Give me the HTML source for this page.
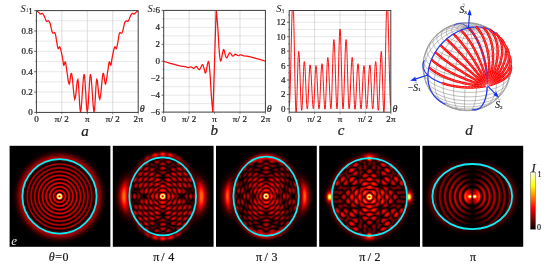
<!DOCTYPE html>
<html><head><meta charset="utf-8"><style>
html,body{margin:0;padding:0;background:#fff;}
body{width:550px;height:268px;position:relative;overflow:hidden;}
#cv{position:absolute;left:0;top:0;}
</style></head><body>
<div style="position:absolute;left:9.6px;top:145.8px;width:100.8px;height:101px;background:radial-gradient(ellipse 41.1px 41.2px at 49.9px 50.599999999999994px, #ffff80 0px, #ff2000 4px, #b00000 40%, #700000 90%, #000 100%);"></div>
<div style="position:absolute;left:21.5px;top:158.29999999999998px;width:74.2px;height:74.4px;border:1.8px solid rgb(15,235,245);border-radius:50%;"></div>
<div style="position:absolute;left:112.8px;top:145.8px;width:100.8px;height:101px;background:radial-gradient(ellipse 37.4px 43.05px at 49.89999999999999px 50.54999999999998px, #ffff80 0px, #ff2000 4px, #b00000 40%, #700000 90%, #000 100%);"></div>
<div style="position:absolute;left:128.39999999999998px;top:156.4px;width:66.8px;height:78.1px;border:1.8px solid rgb(15,235,245);border-radius:50%;"></div>
<div style="position:absolute;left:216.0px;top:145.8px;width:100.8px;height:101px;background:radial-gradient(ellipse 36.7px 43.6px at 50.10000000000002px 50.5px, #ffff80 0px, #ff2000 4px, #b00000 40%, #700000 90%, #000 100%);"></div>
<div style="position:absolute;left:232.50000000000003px;top:155.8px;width:65.4px;height:79.2px;border:1.8px solid rgb(15,235,245);border-radius:50%;"></div>
<div style="position:absolute;left:319.20000000000005px;top:145.8px;width:100.8px;height:101px;background:radial-gradient(ellipse 41.7px 42.85px at 50.19999999999993px 51.14999999999998px, #ffff80 0px, #ff2000 4px, #b00000 40%, #700000 90%, #000 100%);"></div>
<div style="position:absolute;left:330.8px;top:157.2px;width:75.4px;height:77.7px;border:1.8px solid rgb(15,235,245);border-radius:50%;"></div>
<div style="position:absolute;left:422.40000000000003px;top:145.8px;width:100.8px;height:101px;background:radial-gradient(ellipse 43.85px 36.55px at 49.849999999999966px 50.75px, #ffff80 0px, #ff2000 4px, #b00000 40%, #700000 90%, #000 100%);"></div>
<div style="position:absolute;left:431.5px;top:163.1px;width:79.7px;height:65.1px;border:1.8px solid rgb(15,235,245);border-radius:50%;"></div>
<div style="position:absolute;left:530.3px;top:172.5px;width:5.4px;height:56.8px;background:linear-gradient(#ffffe0,#ffff00 25%,#ff0000 62%,#000);"></div>
<canvas id="cv" width="550" height="268"></canvas>
<svg width="550" height="268" viewBox="0 0 550 268" style="position:absolute;left:0;top:0" font-family='"Liberation Serif", "DejaVu Serif", serif'>
<clipPath id="clipa"><rect x="36.4" y="10.6" width="101.79999999999998" height="101.80000000000001"/></clipPath>
<line x1="36.4" y1="102.22" x2="138.2" y2="102.22" stroke="#dedede" stroke-width="0.7"/>
<line x1="36.4" y1="92.04" x2="138.2" y2="92.04" stroke="#dedede" stroke-width="0.7"/>
<line x1="36.4" y1="81.86" x2="138.2" y2="81.86" stroke="#dedede" stroke-width="0.7"/>
<line x1="36.4" y1="71.68" x2="138.2" y2="71.68" stroke="#dedede" stroke-width="0.7"/>
<line x1="36.4" y1="61.50" x2="138.2" y2="61.50" stroke="#dedede" stroke-width="0.7"/>
<line x1="36.4" y1="51.32" x2="138.2" y2="51.32" stroke="#dedede" stroke-width="0.7"/>
<line x1="36.4" y1="41.14" x2="138.2" y2="41.14" stroke="#dedede" stroke-width="0.7"/>
<line x1="36.4" y1="30.96" x2="138.2" y2="30.96" stroke="#dedede" stroke-width="0.7"/>
<line x1="36.4" y1="20.78" x2="138.2" y2="20.78" stroke="#dedede" stroke-width="0.7"/>
<line x1="61.85" y1="10.6" x2="61.85" y2="112.4" stroke="#d0d0d0" stroke-width="0.7"/>
<line x1="87.30" y1="10.6" x2="87.30" y2="112.4" stroke="#d0d0d0" stroke-width="0.7"/>
<line x1="112.75" y1="10.6" x2="112.75" y2="112.4" stroke="#d0d0d0" stroke-width="0.7"/>
<line x1="34.20" y1="112.40" x2="36.4" y2="112.40" stroke="#444" stroke-width="0.8"/>
<line x1="34.20" y1="92.04" x2="36.4" y2="92.04" stroke="#444" stroke-width="0.8"/>
<line x1="34.20" y1="71.68" x2="36.4" y2="71.68" stroke="#444" stroke-width="0.8"/>
<line x1="34.20" y1="51.32" x2="36.4" y2="51.32" stroke="#444" stroke-width="0.8"/>
<line x1="34.20" y1="30.96" x2="36.4" y2="30.96" stroke="#444" stroke-width="0.8"/>
<line x1="34.20" y1="10.60" x2="36.4" y2="10.60" stroke="#444" stroke-width="0.8"/>
<line x1="35.20" y1="102.22" x2="36.4" y2="102.22" stroke="#666" stroke-width="0.6"/>
<line x1="35.20" y1="81.86" x2="36.4" y2="81.86" stroke="#666" stroke-width="0.6"/>
<line x1="35.20" y1="61.50" x2="36.4" y2="61.50" stroke="#666" stroke-width="0.6"/>
<line x1="35.20" y1="41.14" x2="36.4" y2="41.14" stroke="#666" stroke-width="0.6"/>
<line x1="35.20" y1="20.78" x2="36.4" y2="20.78" stroke="#666" stroke-width="0.6"/>
<line x1="36.40" y1="112.4" x2="36.40" y2="114.40" stroke="#666" stroke-width="0.7"/>
<line x1="61.85" y1="112.4" x2="61.85" y2="114.40" stroke="#666" stroke-width="0.7"/>
<line x1="87.30" y1="112.4" x2="87.30" y2="114.40" stroke="#666" stroke-width="0.7"/>
<line x1="112.75" y1="112.4" x2="112.75" y2="114.40" stroke="#666" stroke-width="0.7"/>
<line x1="138.20" y1="112.4" x2="138.20" y2="114.40" stroke="#666" stroke-width="0.7"/>
<path d="M36.40,10.60 L36.67,10.81 L37.05,11.10 L37.49,11.44 L37.96,11.81 L38.41,12.17 L38.80,12.50 L39.12,12.82 L39.42,13.17 L39.69,13.52 L39.96,13.83 L40.22,14.06 L40.50,14.20 L40.78,14.18 L41.07,14.02 L41.36,13.79 L41.64,13.56 L41.92,13.41 L42.20,13.40 L42.47,13.54 L42.74,13.76 L43.00,14.06 L43.26,14.42 L43.53,14.84 L43.80,15.30 L44.08,15.85 L44.38,16.51 L44.68,17.23 L44.97,17.95 L45.25,18.63 L45.50,19.20 L45.71,19.70 L45.89,20.16 L46.05,20.57 L46.21,20.93 L46.39,21.21 L46.60,21.40 L46.85,21.44 L47.12,21.33 L47.41,21.15 L47.71,20.97 L48.01,20.86 L48.30,20.90 L48.59,21.08 L48.89,21.35 L49.19,21.69 L49.48,22.10 L49.75,22.57 L50.00,23.10 L50.22,23.72 L50.41,24.43 L50.59,25.21 L50.76,26.01 L50.92,26.82 L51.10,27.60 L51.28,28.39 L51.46,29.23 L51.64,30.06 L51.83,30.85 L52.01,31.55 L52.20,32.10 L52.40,32.50 L52.60,32.78 L52.80,32.97 L53.00,33.09 L53.20,33.15 L53.40,33.20 L53.59,33.16 L53.77,33.02 L53.96,32.83 L54.14,32.65 L54.32,32.55 L54.50,32.60 L54.68,32.76 L54.87,32.98 L55.05,33.28 L55.23,33.69 L55.42,34.22 L55.60,34.90 L55.78,35.79 L55.96,36.87 L56.13,38.07 L56.31,39.34 L56.50,40.61 L56.70,41.80 L56.91,43.03 L57.14,44.36 L57.38,45.69 L57.61,46.90 L57.86,47.87 L58.10,48.50 L58.35,48.64 L58.60,48.37 L58.86,47.86 L59.11,47.30 L59.36,46.89 L59.60,46.80 L59.82,47.01 L60.03,47.37 L60.24,47.87 L60.44,48.51 L60.66,49.28 L60.90,50.20 L61.17,51.33 L61.46,52.69 L61.76,54.19 L62.06,55.74 L62.34,57.24 L62.60,58.60 L62.82,59.93 L63.02,61.33 L63.21,62.68 L63.39,63.87 L63.58,64.78 L63.80,65.30 L64.04,65.17 L64.30,64.44 L64.57,63.44 L64.85,62.48 L65.13,61.89 L65.40,62.00 L65.66,62.89 L65.91,64.31 L66.16,66.10 L66.42,68.10 L66.70,70.16 L67.00,72.10 L67.33,74.24 L67.68,76.76 L68.05,79.34 L68.43,81.63 L68.81,83.29 L69.20,84.00 L69.58,83.13 L69.96,80.82 L70.34,77.89 L70.73,75.15 L71.15,73.41 L71.60,73.50 L72.09,76.21 L72.61,81.07 L73.16,86.93 L73.71,92.66 L74.26,97.12 L74.80,99.20 L75.33,97.94 L75.86,94.06 L76.38,88.93 L76.90,83.88 L77.41,80.29 L77.90,79.50 L78.36,82.71 L78.80,89.07 L79.23,96.89 L79.66,104.45 L80.11,110.05 L80.60,112.00 L81.14,108.88 L81.72,101.77 L82.32,92.71 L82.93,83.73 L83.52,76.84 L84.10,74.10 L84.65,76.91 L85.19,83.93 L85.72,93.05 L86.24,102.17 L86.77,109.19 L87.30,112.00 L87.83,109.19 L88.36,102.17 L88.88,93.05 L89.41,83.93 L89.95,76.91 L90.50,74.10 L91.08,76.84 L91.67,83.73 L92.28,92.71 L92.88,101.77 L93.46,108.88 L94.00,112.00 L94.49,110.05 L94.94,104.45 L95.38,96.89 L95.80,89.07 L96.24,82.71 L96.70,79.50 L97.19,80.29 L97.70,83.88 L98.22,88.93 L98.74,94.06 L99.27,97.94 L99.80,99.20 L100.34,97.12 L100.89,92.66 L101.44,86.93 L101.99,81.07 L102.51,76.21 L103.00,73.50 L103.45,73.41 L103.87,75.15 L104.26,77.89 L104.64,80.82 L105.02,83.13 L105.40,84.00 L105.79,83.29 L106.17,81.63 L106.55,79.34 L106.92,76.76 L107.27,74.24 L107.60,72.10 L107.90,70.16 L108.18,68.10 L108.44,66.10 L108.69,64.31 L108.94,62.89 L109.20,62.00 L109.47,61.89 L109.75,62.48 L110.02,63.44 L110.30,64.44 L110.56,65.17 L110.80,65.30 L111.02,64.78 L111.21,63.87 L111.39,62.68 L111.58,61.33 L111.78,59.93 L112.00,58.60 L112.26,57.24 L112.54,55.74 L112.84,54.19 L113.14,52.69 L113.43,51.33 L113.70,50.20 L113.94,49.28 L114.16,48.51 L114.36,47.87 L114.57,47.37 L114.78,47.01 L115.00,46.80 L115.24,46.89 L115.49,47.30 L115.74,47.86 L116.00,48.37 L116.25,48.64 L116.50,48.50 L116.74,47.87 L116.99,46.90 L117.22,45.69 L117.46,44.36 L117.69,43.03 L117.90,41.80 L118.10,40.61 L118.29,39.34 L118.47,38.07 L118.64,36.87 L118.82,35.79 L119.00,34.90 L119.18,34.22 L119.37,33.69 L119.55,33.28 L119.73,32.98 L119.92,32.76 L120.10,32.60 L120.28,32.55 L120.46,32.65 L120.64,32.83 L120.83,33.02 L121.01,33.16 L121.20,33.20 L121.40,33.15 L121.60,33.09 L121.80,32.97 L122.00,32.78 L122.20,32.50 L122.40,32.10 L122.59,31.55 L122.77,30.85 L122.96,30.06 L123.14,29.23 L123.32,28.39 L123.50,27.60 L123.68,26.82 L123.84,26.01 L124.01,25.21 L124.19,24.43 L124.38,23.72 L124.60,23.10 L124.85,22.57 L125.12,22.10 L125.41,21.69 L125.71,21.35 L126.01,21.08 L126.30,20.90 L126.59,20.86 L126.89,20.97 L127.19,21.15 L127.48,21.33 L127.75,21.44 L128.00,21.40 L128.21,21.21 L128.39,20.93 L128.55,20.57 L128.71,20.16 L128.89,19.70 L129.10,19.20 L129.35,18.63 L129.63,17.95 L129.92,17.23 L130.22,16.51 L130.52,15.85 L130.80,15.30 L131.07,14.84 L131.34,14.42 L131.60,14.06 L131.86,13.76 L132.13,13.54 L132.40,13.40 L132.68,13.41 L132.96,13.56 L133.24,13.79 L133.53,14.02 L133.82,14.18 L134.10,14.20 L134.38,14.06 L134.64,13.83 L134.91,13.52 L135.18,13.17 L135.48,12.82 L135.80,12.50 L136.19,12.17 L136.64,11.81 L137.11,11.44 L137.55,11.10 L137.93,10.81 L138.20,10.60" fill="none" stroke="#ff1010" stroke-width="1.25" clip-path="url(#clipa)"/>
<rect x="36.4" y="10.6" width="101.79999999999998" height="101.80000000000001" fill="none" stroke="#3c3c3c" stroke-width="1"/>
<text x="32.80" y="115.40" font-size="9" text-anchor="end" fill="#222" stroke="#222" stroke-width="0.22">0</text>
<text x="32.80" y="95.04" font-size="9" text-anchor="end" fill="#222" stroke="#222" stroke-width="0.22">0.2</text>
<text x="32.80" y="74.68" font-size="9" text-anchor="end" fill="#222" stroke="#222" stroke-width="0.22">0.4</text>
<text x="32.80" y="54.32" font-size="9" text-anchor="end" fill="#222" stroke="#222" stroke-width="0.22">0.6</text>
<text x="32.80" y="33.96" font-size="9" text-anchor="end" fill="#222" stroke="#222" stroke-width="0.22">0.8</text>
<text x="32.80" y="13.60" font-size="9" text-anchor="end" fill="#222" stroke="#222" stroke-width="0.22">1</text>
<text x="36.40" y="122.00" font-size="9" text-anchor="middle" fill="#222" stroke="#222" stroke-width="0.22">0</text>
<text x="57.00" y="122.00" font-size="9" text-anchor="middle" fill="#222" stroke="#222" stroke-width="0.22">π</text>
<text x="60.75" y="122.00" font-size="9" text-anchor="middle" fill="#222" stroke="#222" stroke-width="0.22">/</text>
<text x="66.60" y="122.00" font-size="9" text-anchor="middle" fill="#222" stroke="#222" stroke-width="0.22">2</text>
<text x="87.30" y="122.00" font-size="9" text-anchor="middle" fill="#222" stroke="#222" stroke-width="0.22">π</text>
<text x="107.90" y="122.00" font-size="9" text-anchor="middle" fill="#222" stroke="#222" stroke-width="0.22">π</text>
<text x="111.65" y="122.00" font-size="9" text-anchor="middle" fill="#222" stroke="#222" stroke-width="0.22">/</text>
<text x="117.50" y="122.00" font-size="9" text-anchor="middle" fill="#222" stroke="#222" stroke-width="0.22">2</text>
<text x="135.80" y="122.00" font-size="9" text-anchor="middle" fill="#222" stroke="#222" stroke-width="0.22">2</text>
<text x="140.70" y="122.00" font-size="9" text-anchor="middle" fill="#222" stroke="#222" stroke-width="0.22">π</text>
<clipPath id="clipb"><rect x="163.7" y="10.4" width="101.69999999999999" height="101.69999999999999"/></clipPath>
<line x1="163.7" y1="103.62" x2="265.4" y2="103.62" stroke="#dedede" stroke-width="0.7"/>
<line x1="163.7" y1="95.15" x2="265.4" y2="95.15" stroke="#dedede" stroke-width="0.7"/>
<line x1="163.7" y1="86.67" x2="265.4" y2="86.67" stroke="#dedede" stroke-width="0.7"/>
<line x1="163.7" y1="78.20" x2="265.4" y2="78.20" stroke="#dedede" stroke-width="0.7"/>
<line x1="163.7" y1="69.72" x2="265.4" y2="69.72" stroke="#dedede" stroke-width="0.7"/>
<line x1="163.7" y1="52.77" x2="265.4" y2="52.77" stroke="#dedede" stroke-width="0.7"/>
<line x1="163.7" y1="44.30" x2="265.4" y2="44.30" stroke="#dedede" stroke-width="0.7"/>
<line x1="163.7" y1="35.83" x2="265.4" y2="35.83" stroke="#dedede" stroke-width="0.7"/>
<line x1="163.7" y1="27.35" x2="265.4" y2="27.35" stroke="#dedede" stroke-width="0.7"/>
<line x1="163.7" y1="18.88" x2="265.4" y2="18.88" stroke="#dedede" stroke-width="0.7"/>
<line x1="163.7" y1="61.25" x2="265.4" y2="61.25" stroke="#dedede" stroke-width="0.7"/>
<line x1="189.12" y1="10.4" x2="189.12" y2="112.1" stroke="#d0d0d0" stroke-width="0.7"/>
<line x1="214.55" y1="10.4" x2="214.55" y2="112.1" stroke="#d0d0d0" stroke-width="0.7"/>
<line x1="239.97" y1="10.4" x2="239.97" y2="112.1" stroke="#d0d0d0" stroke-width="0.7"/>
<line x1="161.50" y1="112.10" x2="163.7" y2="112.10" stroke="#444" stroke-width="0.8"/>
<line x1="161.50" y1="95.15" x2="163.7" y2="95.15" stroke="#444" stroke-width="0.8"/>
<line x1="161.50" y1="78.20" x2="163.7" y2="78.20" stroke="#444" stroke-width="0.8"/>
<line x1="161.50" y1="61.25" x2="163.7" y2="61.25" stroke="#444" stroke-width="0.8"/>
<line x1="161.50" y1="44.30" x2="163.7" y2="44.30" stroke="#444" stroke-width="0.8"/>
<line x1="161.50" y1="27.35" x2="163.7" y2="27.35" stroke="#444" stroke-width="0.8"/>
<line x1="161.50" y1="10.40" x2="163.7" y2="10.40" stroke="#444" stroke-width="0.8"/>
<line x1="162.50" y1="103.62" x2="163.7" y2="103.62" stroke="#666" stroke-width="0.6"/>
<line x1="162.50" y1="86.67" x2="163.7" y2="86.67" stroke="#666" stroke-width="0.6"/>
<line x1="162.50" y1="69.72" x2="163.7" y2="69.72" stroke="#666" stroke-width="0.6"/>
<line x1="162.50" y1="52.77" x2="163.7" y2="52.77" stroke="#666" stroke-width="0.6"/>
<line x1="162.50" y1="35.83" x2="163.7" y2="35.83" stroke="#666" stroke-width="0.6"/>
<line x1="162.50" y1="18.88" x2="163.7" y2="18.88" stroke="#666" stroke-width="0.6"/>
<line x1="163.70" y1="112.1" x2="163.70" y2="114.10" stroke="#666" stroke-width="0.7"/>
<line x1="189.12" y1="112.1" x2="189.12" y2="114.10" stroke="#666" stroke-width="0.7"/>
<line x1="214.55" y1="112.1" x2="214.55" y2="114.10" stroke="#666" stroke-width="0.7"/>
<line x1="239.97" y1="112.1" x2="239.97" y2="114.10" stroke="#666" stroke-width="0.7"/>
<line x1="265.40" y1="112.1" x2="265.40" y2="114.10" stroke="#666" stroke-width="0.7"/>
<path d="M163.70,61.25 L164.34,61.47 L165.20,61.76 L166.22,62.11 L167.39,62.50 L168.66,62.90 L170.00,63.30 L171.51,63.72 L173.24,64.20 L175.08,64.68 L176.90,65.15 L178.58,65.57 L180.00,65.90 L181.16,66.13 L182.14,66.27 L182.99,66.37 L183.73,66.44 L184.39,66.51 L185.00,66.60 L185.53,66.72 L185.96,66.85 L186.31,66.97 L186.61,67.10 L186.89,67.21 L187.20,67.30 L187.51,67.39 L187.80,67.47 L188.08,67.54 L188.35,67.60 L188.62,67.62 L188.90,67.60 L189.18,67.51 L189.47,67.36 L189.75,67.17 L190.03,66.99 L190.32,66.85 L190.60,66.80 L190.88,66.84 L191.17,66.95 L191.45,67.11 L191.73,67.28 L192.02,67.45 L192.30,67.60 L192.58,67.75 L192.85,67.94 L193.12,68.12 L193.40,68.27 L193.69,68.34 L194.00,68.30 L194.34,68.08 L194.71,67.68 L195.10,67.21 L195.49,66.76 L195.86,66.43 L196.20,66.30 L196.51,66.42 L196.80,66.73 L197.08,67.16 L197.35,67.62 L197.62,68.06 L197.90,68.40 L198.17,68.71 L198.43,69.06 L198.68,69.39 L198.95,69.61 L199.25,69.68 L199.60,69.50 L200.02,68.93 L200.50,67.99 L201.01,66.89 L201.51,65.82 L201.99,64.99 L202.40,64.60 L202.73,64.71 L203.02,65.17 L203.27,65.86 L203.50,66.69 L203.74,67.54 L204.00,68.30 L204.27,69.19 L204.53,70.32 L204.79,71.48 L205.06,72.43 L205.36,72.95 L205.70,72.80 L206.09,71.59 L206.54,69.43 L207.01,66.83 L207.47,64.31 L207.91,62.40 L208.30,61.60 L208.63,61.94 L208.91,63.00 L209.18,64.66 L209.42,66.80 L209.66,69.29 L209.90,72.00 L210.14,75.16 L210.37,78.90 L210.60,82.99 L210.83,87.20 L211.06,91.28 L211.30,95.00 L211.57,98.56 L211.88,102.19 L212.19,105.69 L212.48,108.87 L212.72,111.54 L212.90,113.50 L214.55,61.25 L216.20,9.00 L216.38,10.96 L216.62,13.63 L216.91,16.81 L217.22,20.31 L217.53,23.94 L217.80,27.50 L218.04,31.22 L218.27,35.30 L218.50,39.51 L218.73,43.60 L218.96,47.34 L219.20,50.50 L219.44,53.21 L219.68,55.70 L219.92,57.84 L220.19,59.50 L220.47,60.56 L220.80,60.90 L221.19,60.10 L221.63,58.19 L222.09,55.67 L222.56,53.07 L223.01,50.91 L223.40,49.70 L223.74,49.55 L224.04,50.07 L224.31,51.02 L224.57,52.18 L224.83,53.31 L225.10,54.20 L225.36,54.96 L225.60,55.81 L225.83,56.64 L226.08,57.33 L226.37,57.79 L226.70,57.90 L227.11,57.51 L227.59,56.68 L228.09,55.61 L228.60,54.51 L229.08,53.57 L229.50,53.00 L229.85,52.82 L230.15,52.89 L230.42,53.11 L230.67,53.44 L230.93,53.79 L231.20,54.10 L231.48,54.44 L231.75,54.88 L232.02,55.34 L232.30,55.77 L232.59,56.08 L232.90,56.20 L233.24,56.07 L233.61,55.74 L234.00,55.29 L234.39,54.82 L234.76,54.42 L235.10,54.20 L235.41,54.16 L235.70,54.23 L235.98,54.38 L236.25,54.56 L236.52,54.75 L236.80,54.90 L237.08,55.05 L237.37,55.22 L237.65,55.39 L237.93,55.55 L238.22,55.66 L238.50,55.70 L238.78,55.65 L239.07,55.51 L239.35,55.33 L239.63,55.14 L239.92,54.99 L240.20,54.90 L240.48,54.88 L240.75,54.90 L241.02,54.96 L241.30,55.03 L241.59,55.11 L241.90,55.20 L242.21,55.29 L242.49,55.40 L242.79,55.53 L243.14,55.65 L243.57,55.78 L244.10,55.90 L244.71,55.99 L245.37,56.06 L246.11,56.13 L246.96,56.23 L247.94,56.37 L249.10,56.60 L250.52,56.93 L252.20,57.35 L254.02,57.82 L255.86,58.30 L257.59,58.78 L259.10,59.20 L260.44,59.60 L261.71,60.00 L262.88,60.39 L263.90,60.74 L264.76,61.03 L265.40,61.25" fill="none" stroke="#ff1010" stroke-width="1.25" clip-path="url(#clipb)"/>
<rect x="163.7" y="10.4" width="101.69999999999999" height="101.69999999999999" fill="none" stroke="#3c3c3c" stroke-width="1"/>
<text x="160.10" y="115.10" font-size="9" text-anchor="end" fill="#222" stroke="#222" stroke-width="0.22">−6</text>
<text x="160.10" y="98.15" font-size="9" text-anchor="end" fill="#222" stroke="#222" stroke-width="0.22">−4</text>
<text x="160.10" y="81.20" font-size="9" text-anchor="end" fill="#222" stroke="#222" stroke-width="0.22">−2</text>
<text x="160.10" y="64.25" font-size="9" text-anchor="end" fill="#222" stroke="#222" stroke-width="0.22">0</text>
<text x="160.10" y="47.30" font-size="9" text-anchor="end" fill="#222" stroke="#222" stroke-width="0.22">2</text>
<text x="160.10" y="30.35" font-size="9" text-anchor="end" fill="#222" stroke="#222" stroke-width="0.22">4</text>
<text x="160.10" y="13.40" font-size="9" text-anchor="end" fill="#222" stroke="#222" stroke-width="0.22">6</text>
<text x="163.70" y="122.00" font-size="9" text-anchor="middle" fill="#222" stroke="#222" stroke-width="0.22">0</text>
<text x="184.28" y="122.00" font-size="9" text-anchor="middle" fill="#222" stroke="#222" stroke-width="0.22">π</text>
<text x="188.03" y="122.00" font-size="9" text-anchor="middle" fill="#222" stroke="#222" stroke-width="0.22">/</text>
<text x="193.88" y="122.00" font-size="9" text-anchor="middle" fill="#222" stroke="#222" stroke-width="0.22">2</text>
<text x="214.55" y="122.00" font-size="9" text-anchor="middle" fill="#222" stroke="#222" stroke-width="0.22">π</text>
<text x="235.12" y="122.00" font-size="9" text-anchor="middle" fill="#222" stroke="#222" stroke-width="0.22">π</text>
<text x="238.87" y="122.00" font-size="9" text-anchor="middle" fill="#222" stroke="#222" stroke-width="0.22">/</text>
<text x="244.72" y="122.00" font-size="9" text-anchor="middle" fill="#222" stroke="#222" stroke-width="0.22">2</text>
<text x="263.00" y="122.00" font-size="9" text-anchor="middle" fill="#222" stroke="#222" stroke-width="0.22">2</text>
<text x="267.90" y="122.00" font-size="9" text-anchor="middle" fill="#222" stroke="#222" stroke-width="0.22">π</text>
<clipPath id="clipc"><rect x="289.2" y="10.5" width="101.60000000000002" height="101.7"/></clipPath>
<line x1="289.2" y1="108.90" x2="390.8" y2="108.90" stroke="#dedede" stroke-width="0.7"/>
<line x1="289.2" y1="101.68" x2="390.8" y2="101.68" stroke="#dedede" stroke-width="0.7"/>
<line x1="289.2" y1="94.46" x2="390.8" y2="94.46" stroke="#dedede" stroke-width="0.7"/>
<line x1="289.2" y1="87.24" x2="390.8" y2="87.24" stroke="#dedede" stroke-width="0.7"/>
<line x1="289.2" y1="80.02" x2="390.8" y2="80.02" stroke="#dedede" stroke-width="0.7"/>
<line x1="289.2" y1="72.80" x2="390.8" y2="72.80" stroke="#dedede" stroke-width="0.7"/>
<line x1="289.2" y1="65.58" x2="390.8" y2="65.58" stroke="#dedede" stroke-width="0.7"/>
<line x1="289.2" y1="58.36" x2="390.8" y2="58.36" stroke="#dedede" stroke-width="0.7"/>
<line x1="289.2" y1="51.14" x2="390.8" y2="51.14" stroke="#dedede" stroke-width="0.7"/>
<line x1="289.2" y1="43.92" x2="390.8" y2="43.92" stroke="#dedede" stroke-width="0.7"/>
<line x1="289.2" y1="36.70" x2="390.8" y2="36.70" stroke="#dedede" stroke-width="0.7"/>
<line x1="289.2" y1="29.48" x2="390.8" y2="29.48" stroke="#dedede" stroke-width="0.7"/>
<line x1="289.2" y1="22.26" x2="390.8" y2="22.26" stroke="#dedede" stroke-width="0.7"/>
<line x1="289.2" y1="15.04" x2="390.8" y2="15.04" stroke="#dedede" stroke-width="0.7"/>
<line x1="314.60" y1="10.5" x2="314.60" y2="112.2" stroke="#d0d0d0" stroke-width="0.7"/>
<line x1="340.00" y1="10.5" x2="340.00" y2="112.2" stroke="#d0d0d0" stroke-width="0.7"/>
<line x1="365.40" y1="10.5" x2="365.40" y2="112.2" stroke="#d0d0d0" stroke-width="0.7"/>
<line x1="287.00" y1="108.90" x2="289.2" y2="108.90" stroke="#444" stroke-width="0.8"/>
<line x1="287.00" y1="94.46" x2="289.2" y2="94.46" stroke="#444" stroke-width="0.8"/>
<line x1="287.00" y1="80.02" x2="289.2" y2="80.02" stroke="#444" stroke-width="0.8"/>
<line x1="287.00" y1="65.58" x2="289.2" y2="65.58" stroke="#444" stroke-width="0.8"/>
<line x1="287.00" y1="51.14" x2="289.2" y2="51.14" stroke="#444" stroke-width="0.8"/>
<line x1="287.00" y1="36.70" x2="289.2" y2="36.70" stroke="#444" stroke-width="0.8"/>
<line x1="287.00" y1="22.26" x2="289.2" y2="22.26" stroke="#444" stroke-width="0.8"/>
<line x1="288.00" y1="101.68" x2="289.2" y2="101.68" stroke="#666" stroke-width="0.6"/>
<line x1="288.00" y1="87.24" x2="289.2" y2="87.24" stroke="#666" stroke-width="0.6"/>
<line x1="288.00" y1="72.80" x2="289.2" y2="72.80" stroke="#666" stroke-width="0.6"/>
<line x1="288.00" y1="58.36" x2="289.2" y2="58.36" stroke="#666" stroke-width="0.6"/>
<line x1="288.00" y1="43.92" x2="289.2" y2="43.92" stroke="#666" stroke-width="0.6"/>
<line x1="288.00" y1="29.48" x2="289.2" y2="29.48" stroke="#666" stroke-width="0.6"/>
<line x1="288.00" y1="15.04" x2="289.2" y2="15.04" stroke="#666" stroke-width="0.6"/>
<line x1="289.20" y1="112.2" x2="289.20" y2="114.20" stroke="#666" stroke-width="0.7"/>
<line x1="314.60" y1="112.2" x2="314.60" y2="114.20" stroke="#666" stroke-width="0.7"/>
<line x1="340.00" y1="112.2" x2="340.00" y2="114.20" stroke="#666" stroke-width="0.7"/>
<line x1="365.40" y1="112.2" x2="365.40" y2="114.20" stroke="#666" stroke-width="0.7"/>
<line x1="390.80" y1="112.2" x2="390.80" y2="114.20" stroke="#666" stroke-width="0.7"/>
<path d="M289.20,106.30 L289.57,103.71 L289.94,96.21 L290.31,84.52 L290.68,69.78 L291.05,53.45 L291.42,37.12 L291.79,22.39 L292.16,10.69 L292.53,3.19 L292.90,0.60 L293.22,3.34 L293.54,11.29 L293.86,23.67 L294.18,39.26 L294.50,56.56 L294.82,73.85 L295.14,89.44 L295.46,101.82 L295.78,109.77 L296.10,112.51 L296.36,111.02 L296.62,106.68 L296.88,99.92 L297.14,91.41 L297.40,81.97 L297.66,72.53 L297.92,64.02 L298.18,57.26 L298.44,52.92 L298.70,51.43 L299.00,52.87 L299.30,57.05 L299.60,63.57 L299.90,71.78 L300.20,80.89 L300.50,89.99 L300.80,98.20 L301.10,104.72 L301.40,108.90 L301.70,110.34 L301.96,109.15 L302.22,105.68 L302.48,100.27 L302.74,93.46 L303.00,85.90 L303.26,78.35 L303.52,71.54 L303.78,66.13 L304.04,62.66 L304.30,61.46 L304.60,62.63 L304.90,65.99 L305.20,71.24 L305.50,77.85 L305.80,85.18 L306.10,92.51 L306.40,99.12 L306.70,104.37 L307.00,107.74 L307.30,108.90 L307.58,107.82 L307.86,104.69 L308.14,99.82 L308.42,93.68 L308.70,86.88 L308.98,80.07 L309.26,73.94 L309.54,69.06 L309.82,65.94 L310.10,64.86 L310.43,65.93 L310.76,69.04 L311.09,73.89 L311.42,80.00 L311.75,86.77 L312.08,93.54 L312.41,99.65 L312.74,104.50 L313.07,107.61 L313.40,108.68 L313.66,107.63 L313.92,104.57 L314.18,99.80 L314.44,93.79 L314.70,87.13 L314.96,80.47 L315.22,74.46 L315.48,69.70 L315.74,66.63 L316.00,65.58 L316.30,66.64 L316.60,69.72 L316.90,74.51 L317.20,80.55 L317.50,87.24 L317.80,93.93 L318.10,99.97 L318.40,104.76 L318.70,107.84 L319.00,108.90 L319.30,107.79 L319.60,104.58 L319.90,99.58 L320.20,93.28 L320.50,86.30 L320.80,79.32 L321.10,73.02 L321.40,68.02 L321.70,64.81 L322.00,63.70 L322.30,64.82 L322.60,68.05 L322.90,73.09 L323.20,79.44 L323.50,86.48 L323.80,93.52 L324.10,99.87 L324.40,104.91 L324.70,108.15 L325.00,109.26 L325.28,107.99 L325.56,104.31 L325.84,98.58 L326.12,91.35 L326.40,83.34 L326.68,75.33 L326.96,68.11 L327.24,62.37 L327.52,58.69 L327.80,57.42 L328.11,58.68 L328.42,62.34 L328.73,68.03 L329.04,75.21 L329.35,83.16 L329.66,91.11 L329.97,98.29 L330.28,103.98 L330.59,107.64 L330.90,108.90 L331.20,107.20 L331.50,102.28 L331.80,94.61 L332.10,84.95 L332.40,74.24 L332.70,63.53 L333.00,53.87 L333.30,46.21 L333.60,41.28 L333.90,39.59 L334.21,41.28 L334.52,46.21 L334.83,53.87 L335.14,63.53 L335.45,74.24 L335.76,84.95 L336.07,94.61 L336.38,102.28 L336.69,107.20 L337.00,108.90 L337.30,106.94 L337.60,101.27 L337.90,92.43 L338.20,81.29 L338.50,68.94 L338.80,56.59 L339.10,45.45 L339.40,36.61 L339.70,30.93 L340.00,28.97 L340.30,30.93 L340.60,36.61 L340.90,45.45 L341.20,56.59 L341.50,68.94 L341.80,81.29 L342.10,92.43 L342.40,101.27 L342.70,106.94 L343.00,108.90 L343.31,107.20 L343.62,102.28 L343.93,94.61 L344.24,84.95 L344.55,74.24 L344.86,63.53 L345.17,53.87 L345.48,46.21 L345.79,41.28 L346.10,39.59 L346.40,41.28 L346.70,46.21 L347.00,53.87 L347.30,63.53 L347.60,74.24 L347.90,84.95 L348.20,94.61 L348.50,102.28 L348.80,107.20 L349.10,108.90 L349.41,107.64 L349.72,103.98 L350.03,98.29 L350.34,91.11 L350.65,83.16 L350.96,75.21 L351.27,68.03 L351.58,62.34 L351.89,58.68 L352.20,57.42 L352.48,58.69 L352.76,62.37 L353.04,68.11 L353.32,75.33 L353.60,83.34 L353.88,91.35 L354.16,98.58 L354.44,104.31 L354.72,107.99 L355.00,109.26 L355.30,108.15 L355.60,104.91 L355.90,99.87 L356.20,93.52 L356.50,86.48 L356.80,79.44 L357.10,73.09 L357.40,68.05 L357.70,64.82 L358.00,63.70 L358.30,64.81 L358.60,68.02 L358.90,73.02 L359.20,79.32 L359.50,86.30 L359.80,93.28 L360.10,99.58 L360.40,104.58 L360.70,107.79 L361.00,108.90 L361.30,107.84 L361.60,104.76 L361.90,99.97 L362.20,93.93 L362.50,87.24 L362.80,80.55 L363.10,74.51 L363.40,69.72 L363.70,66.64 L364.00,65.58 L364.26,66.63 L364.52,69.70 L364.78,74.46 L365.04,80.47 L365.30,87.13 L365.56,93.79 L365.82,99.80 L366.08,104.57 L366.34,107.63 L366.60,108.68 L366.93,107.61 L367.26,104.50 L367.59,99.65 L367.92,93.54 L368.25,86.77 L368.58,80.00 L368.91,73.89 L369.24,69.04 L369.57,65.93 L369.90,64.86 L370.18,65.94 L370.46,69.06 L370.74,73.94 L371.02,80.07 L371.30,86.88 L371.58,93.68 L371.86,99.82 L372.14,104.69 L372.42,107.82 L372.70,108.90 L373.00,107.74 L373.30,104.37 L373.60,99.12 L373.90,92.51 L374.20,85.18 L374.50,77.85 L374.80,71.24 L375.10,65.99 L375.40,62.63 L375.70,61.46 L375.96,62.66 L376.22,66.13 L376.48,71.54 L376.74,78.35 L377.00,85.90 L377.26,93.46 L377.52,100.27 L377.78,105.68 L378.04,109.15 L378.30,110.34 L378.60,108.90 L378.90,104.72 L379.20,98.20 L379.50,89.99 L379.80,80.89 L380.10,71.78 L380.40,63.57 L380.70,57.05 L381.00,52.87 L381.30,51.43 L381.56,52.92 L381.82,57.26 L382.08,64.02 L382.34,72.53 L382.60,81.97 L382.86,91.41 L383.12,99.92 L383.38,106.68 L383.64,111.02 L383.90,112.51 L384.22,109.77 L384.54,101.82 L384.86,89.44 L385.18,73.85 L385.50,56.56 L385.82,39.26 L386.14,23.67 L386.46,11.29 L386.78,3.34 L387.10,0.60 L387.47,3.19 L387.84,10.69 L388.21,22.39 L388.58,37.12 L388.95,53.45 L389.32,69.78 L389.69,84.52 L390.06,96.21 L390.43,103.71 L390.80,106.30" fill="none" stroke="#ff1010" stroke-width="1.0" clip-path="url(#clipc)"/>
<rect x="289.2" y="10.5" width="101.60000000000002" height="101.7" fill="none" stroke="#3c3c3c" stroke-width="1"/>
<text x="285.60" y="111.90" font-size="9" text-anchor="end" fill="#222" stroke="#222" stroke-width="0.22">0</text>
<text x="285.60" y="97.46" font-size="9" text-anchor="end" fill="#222" stroke="#222" stroke-width="0.22">2</text>
<text x="285.60" y="83.02" font-size="9" text-anchor="end" fill="#222" stroke="#222" stroke-width="0.22">4</text>
<text x="285.60" y="68.58" font-size="9" text-anchor="end" fill="#222" stroke="#222" stroke-width="0.22">6</text>
<text x="285.60" y="54.14" font-size="9" text-anchor="end" fill="#222" stroke="#222" stroke-width="0.22">8</text>
<text x="285.60" y="39.70" font-size="9" text-anchor="end" fill="#222" stroke="#222" stroke-width="0.22">10</text>
<text x="285.60" y="25.26" font-size="9" text-anchor="end" fill="#222" stroke="#222" stroke-width="0.22">12</text>
<text x="289.20" y="122.00" font-size="9" text-anchor="middle" fill="#222" stroke="#222" stroke-width="0.22">0</text>
<text x="309.75" y="122.00" font-size="9" text-anchor="middle" fill="#222" stroke="#222" stroke-width="0.22">π</text>
<text x="313.50" y="122.00" font-size="9" text-anchor="middle" fill="#222" stroke="#222" stroke-width="0.22">/</text>
<text x="319.35" y="122.00" font-size="9" text-anchor="middle" fill="#222" stroke="#222" stroke-width="0.22">2</text>
<text x="340.00" y="122.00" font-size="9" text-anchor="middle" fill="#222" stroke="#222" stroke-width="0.22">π</text>
<text x="360.55" y="122.00" font-size="9" text-anchor="middle" fill="#222" stroke="#222" stroke-width="0.22">π</text>
<text x="364.30" y="122.00" font-size="9" text-anchor="middle" fill="#222" stroke="#222" stroke-width="0.22">/</text>
<text x="370.15" y="122.00" font-size="9" text-anchor="middle" fill="#222" stroke="#222" stroke-width="0.22">2</text>
<text x="388.40" y="122.00" font-size="9" text-anchor="middle" fill="#222" stroke="#222" stroke-width="0.22">2</text>
<text x="393.30" y="122.00" font-size="9" text-anchor="middle" fill="#222" stroke="#222" stroke-width="0.22">π</text>
<text x="20.4" y="11.8" font-size="10.5" font-style="italic" fill="#222">S<tspan font-size="5.5" font-style="normal" dy="0.6">1</tspan></text>
<text x="147.6" y="11.8" font-size="10.5" font-style="italic" fill="#222">S<tspan font-size="5.5" font-style="normal" dy="0.6">2</tspan></text>
<text x="276.2" y="12.2" font-size="10.5" font-style="italic" fill="#222">S<tspan font-size="5.5" font-style="normal" dy="0.6">3</tspan></text>
<text x="139.80" y="112.30" font-size="10" text-anchor="start" font-style="italic" fill="#222" stroke="#222" stroke-width="0.22">θ</text>
<text x="266.80" y="112.30" font-size="10" text-anchor="start" font-style="italic" fill="#222" stroke="#222" stroke-width="0.22">θ</text>
<text x="392.40" y="112.30" font-size="10" text-anchor="start" font-style="italic" fill="#222" stroke="#222" stroke-width="0.22">θ</text>
<text x="85.00" y="136.00" font-size="15" text-anchor="middle" font-style="italic" fill="#222" stroke="#222" stroke-width="0.22">a</text>
<text x="214.20" y="135.20" font-size="15" text-anchor="middle" font-style="italic" fill="#222" stroke="#222" stroke-width="0.22">b</text>
<text x="341.00" y="135.20" font-size="15" text-anchor="middle" font-style="italic" fill="#222" stroke="#222" stroke-width="0.22">c</text>
<text x="469.00" y="135.20" font-size="15" text-anchor="middle" font-style="italic" fill="#222" stroke="#222" stroke-width="0.22">d</text>
<g id="sphere">
<path d="M465.32,110.45 L466.49,110.48 L467.66,110.46 L468.83,110.41 L469.97,110.32 L471.10,110.19 L472.20,110.02 L473.26,109.82 L474.29,109.58 L475.28,109.31 L476.22,109.00 L477.11,108.66 L477.94,108.30 M453.70,107.77 L454.56,108.17 L455.47,108.55 L456.44,108.90 L457.44,109.21 L458.49,109.50 L459.57,109.75 L460.68,109.96 L461.82,110.14 L462.98,110.28 L464.14,110.39 L465.32,110.45 M465.31,110.65 L466.85,110.68 L468.38,110.66 L469.90,110.59 L471.39,110.48 L472.86,110.31 L474.30,110.09 L475.69,109.83 L477.04,109.51 L478.33,109.16 L479.55,108.76 L480.71,108.31 L481.80,107.83 L482.81,107.31 L483.74,106.76 L484.57,106.18 L485.32,105.56 M446.44,104.71 L447.24,105.36 L448.12,105.98 L449.08,106.58 L450.13,107.14 L451.25,107.67 L452.45,108.16 L453.70,108.62 L455.02,109.03 L456.39,109.40 L457.80,109.73 L459.26,110.01 L460.74,110.24 L462.25,110.43 L463.77,110.56 L465.31,110.65 M465.33,110.09 L467.20,110.13 L469.07,110.11 L470.91,110.03 L472.74,109.88 L474.53,109.68 L476.27,109.41 L477.97,109.09 L479.61,108.71 L481.18,108.28 L482.67,107.79 L484.09,107.25 L485.41,106.66 L486.64,106.03 L487.77,105.36 L488.79,104.65 L489.69,103.90 L490.49,103.12 L491.16,102.32 M440.78,101.21 L441.51,102.05 L442.36,102.86 L443.33,103.65 L444.40,104.41 L445.57,105.13 L446.85,105.82 L448.22,106.46 L449.67,107.06 L451.20,107.62 L452.80,108.12 L454.47,108.58 L456.19,108.97 L457.96,109.31 L459.77,109.60 L461.61,109.82 L463.46,109.99 L465.33,110.09 M465.38,108.79 L467.55,108.84 L469.72,108.81 L471.87,108.72 L473.98,108.55 L476.06,108.31 L478.09,108.00 L480.06,107.63 L481.96,107.19 L483.79,106.68 L485.52,106.12 L487.17,105.49 L488.70,104.81 L490.13,104.08 L491.44,103.29 L492.62,102.47 L493.68,101.60 L494.60,100.70 L495.38,99.76 L496.02,98.80 L496.51,97.81 M435.60,96.48 L436.16,97.49 L436.87,98.48 L437.72,99.45 L438.70,100.40 L439.82,101.31 L441.07,102.19 L442.43,103.03 L443.91,103.83 L445.50,104.58 L447.19,105.28 L448.97,105.92 L450.83,106.50 L452.77,107.03 L454.77,107.49 L456.82,107.89 L458.92,108.22 L461.05,108.48 L463.21,108.67 L465.38,108.79 M465.46,106.77 L467.90,106.82 L470.33,106.79 L472.73,106.69 L475.11,106.50 L477.44,106.23 L479.72,105.89 L481.93,105.46 L484.06,104.97 L486.11,104.40 L488.06,103.77 L489.90,103.07 L491.63,102.30 L493.23,101.48 L494.70,100.60 L496.03,99.68 L497.21,98.70 L498.24,97.69 L499.12,96.64 L499.83,95.56 L500.38,94.45 L500.76,93.32 M431.58,91.81 L432.05,92.95 L432.68,94.09 L433.47,95.20 L434.42,96.29 L435.53,97.35 L436.78,98.38 L438.18,99.37 L439.71,100.31 L441.37,101.20 L443.15,102.04 L445.05,102.83 L447.05,103.55 L449.13,104.20 L451.31,104.79 L453.55,105.31 L455.86,105.76 L458.21,106.13 L460.60,106.42 L463.02,106.63 L465.46,106.77 M465.56,104.06 L468.22,104.12 L470.88,104.09 L473.51,103.97 L476.10,103.76 L478.65,103.47 L481.13,103.10 L483.54,102.64 L485.87,102.10 L488.11,101.48 L490.23,100.78 L492.24,100.02 L494.13,99.19 L495.87,98.29 L497.48,97.33 L498.93,96.32 L500.22,95.26 L501.35,94.15 L502.30,93.00 L503.08,91.82 L503.68,90.61 L504.10,89.38 L504.34,88.13 M428.26,86.47 L428.58,87.73 L429.09,88.98 L429.78,90.22 L430.64,91.43 L431.68,92.62 L432.89,93.78 L434.26,94.90 L435.78,95.98 L437.46,97.01 L439.27,97.98 L441.22,98.90 L443.28,99.76 L445.46,100.54 L447.74,101.26 L450.11,101.91 L452.56,102.47 L455.08,102.96 L457.65,103.36 L460.26,103.68 L462.90,103.91 L465.56,104.06 M465.69,100.71 L468.53,100.77 L471.36,100.74 L474.16,100.62 L476.93,100.40 L479.65,100.09 L482.30,99.68 L484.87,99.19 L487.36,98.62 L489.74,97.96 L492.01,97.22 L494.15,96.40 L496.16,95.51 L498.03,94.55 L499.74,93.53 L501.29,92.45 L502.67,91.32 L503.87,90.14 L504.89,88.91 L505.72,87.66 L506.36,86.37 L506.81,85.05 L507.06,83.72 L507.11,82.38 M425.75,80.60 L425.90,81.94 L426.24,83.29 L426.78,84.62 L427.52,85.94 L428.44,87.24 L429.55,88.51 L430.83,89.75 L432.29,90.94 L433.92,92.09 L435.71,93.19 L437.64,94.23 L439.72,95.21 L441.92,96.12 L444.25,96.96 L446.68,97.73 L449.21,98.41 L451.82,99.02 L454.51,99.53 L457.25,99.97 L460.04,100.31 L462.86,100.55 L465.69,100.71 M465.84,96.78 L468.81,96.84 L471.77,96.81 L474.70,96.68 L477.59,96.45 L480.43,96.13 L483.21,95.71 L485.90,95.19 L488.50,94.59 L490.99,93.90 L493.36,93.13 L495.60,92.27 L497.70,91.34 L499.65,90.34 L501.44,89.27 L503.06,88.15 L504.50,86.96 L505.76,85.73 L506.82,84.45 L507.69,83.13 L508.36,81.78 L508.83,80.41 L509.09,79.02 L509.14,77.61 L508.99,76.21 M424.14,74.35 L424.09,75.75 L424.24,77.16 L424.60,78.56 L425.16,79.96 L425.93,81.34 L426.89,82.70 L428.05,84.02 L429.40,85.32 L430.93,86.57 L432.63,87.77 L434.49,88.92 L436.52,90.00 L438.69,91.03 L440.99,91.98 L443.42,92.86 L445.97,93.66 L448.61,94.38 L451.34,95.01 L454.15,95.55 L457.02,96.00 L459.93,96.36 L462.88,96.62 L465.84,96.78 M466.01,92.33 L469.06,92.40 L472.10,92.36 L475.11,92.23 L478.08,92.00 L480.99,91.66 L483.84,91.23 L486.60,90.70 L489.26,90.09 L491.82,89.38 L494.26,88.58 L496.56,87.71 L498.71,86.75 L500.71,85.73 L502.55,84.63 L504.21,83.47 L505.69,82.25 L506.98,80.99 L508.08,79.67 L508.97,78.32 L509.66,76.94 L510.13,75.53 L510.40,74.10 L510.46,72.66 L510.30,71.22 L509.93,69.77 M423.48,67.88 L423.21,69.31 L423.15,70.75 L423.31,72.19 L423.68,73.64 L424.26,75.07 L425.05,76.48 L426.04,77.88 L427.22,79.24 L428.61,80.57 L430.17,81.85 L431.92,83.08 L433.84,84.26 L435.91,85.38 L438.14,86.43 L440.51,87.41 L443.00,88.31 L445.61,89.13 L448.33,89.87 L451.13,90.51 L454.01,91.07 L456.95,91.53 L459.95,91.90 L462.97,92.16 L466.01,92.33 M466.20,87.45 L469.27,87.51 L472.34,87.48 L475.37,87.34 L478.37,87.11 L481.31,86.77 L484.18,86.33 L486.96,85.80 L489.65,85.18 L492.23,84.47 L494.69,83.66 L497.01,82.78 L499.18,81.82 L501.20,80.78 L503.05,79.68 L504.73,78.51 L506.22,77.28 L507.52,76.00 L508.63,74.68 L509.53,73.31 L510.22,71.92 L510.70,70.50 L510.97,69.06 L511.03,67.60 L510.87,66.15 L510.50,64.69 L509.91,63.25 M423.78,61.36 L423.30,62.78 L423.03,64.22 L422.97,65.68 L423.13,67.13 L423.50,68.59 L424.09,70.03 L424.88,71.46 L425.88,72.87 L427.08,74.24 L428.47,75.58 L430.05,76.87 L431.81,78.12 L433.75,79.30 L435.84,80.43 L438.09,81.49 L440.47,82.48 L442.99,83.39 L445.62,84.22 L448.36,84.96 L451.19,85.61 L454.10,86.17 L457.06,86.64 L460.08,87.01 L463.13,87.28 L466.20,87.45 M466.40,82.20 L469.45,82.27 L472.48,82.24 L475.49,82.10 L478.46,81.87 L481.38,81.53 L484.23,81.10 L486.99,80.58 L489.65,79.96 L492.21,79.25 L494.65,78.45 L496.95,77.58 L499.10,76.62 L501.10,75.60 L502.94,74.50 L504.60,73.34 L506.08,72.12 L507.37,70.86 L508.46,69.54 L509.36,68.19 L510.04,66.81 L510.52,65.40 L510.79,63.97 L510.85,62.53 L510.69,61.09 L510.32,59.64 L509.74,58.21 L508.95,56.80 M425.03,54.96 L424.34,56.34 L423.87,57.75 L423.60,59.18 L423.54,60.62 L423.70,62.06 L424.07,63.51 L424.65,64.94 L425.44,66.35 L426.43,67.75 L427.61,69.11 L429.00,70.44 L430.56,71.72 L432.31,72.95 L434.23,74.13 L436.30,75.25 L438.53,76.30 L440.90,77.28 L443.39,78.18 L446.00,79.00 L448.72,79.74 L451.52,80.39 L454.40,80.94 L457.34,81.40 L460.33,81.77 L463.36,82.04 L466.40,82.20 M466.61,76.69 L469.58,76.76 L472.54,76.73 L475.47,76.59 L478.37,76.37 L481.21,76.04 L483.98,75.62 L486.67,75.11 L489.27,74.51 L491.76,73.82 L494.13,73.04 L496.37,72.19 L498.47,71.26 L500.42,70.26 L502.21,69.19 L503.83,68.06 L505.27,66.88 L506.53,65.64 L507.59,64.36 L508.46,63.04 L509.13,61.70 L509.60,60.32 L509.86,58.93 L509.91,57.53 L509.76,56.12 L509.40,54.72 L508.84,53.32 L508.07,51.94 L507.11,50.58 L505.95,49.26 M428.24,47.55 L427.18,48.83 L426.31,50.15 L425.64,51.50 L425.17,52.87 L424.91,54.26 L424.86,55.67 L425.01,57.07 L425.37,58.48 L425.93,59.87 L426.70,61.25 L427.67,62.61 L428.82,63.94 L430.17,65.23 L431.70,66.48 L433.40,67.68 L435.27,68.83 L437.29,69.92 L439.46,70.94 L441.76,71.90 L444.20,72.77 L446.74,73.57 L449.38,74.29 L452.12,74.92 L454.92,75.46 L457.79,75.91 L460.70,76.27 L463.65,76.53 L466.61,76.69 M466.83,71.01 L469.67,71.07 L472.50,71.04 L475.31,70.92 L478.07,70.70 L480.79,70.39 L483.44,69.99 L486.01,69.50 L488.50,68.92 L490.88,68.26 L493.15,67.52 L495.30,66.70 L497.30,65.81 L499.17,64.86 L500.88,63.84 L502.43,62.76 L503.81,61.62 L505.01,60.44 L506.03,59.22 L506.86,57.96 L507.50,56.67 L507.95,55.35 L508.20,54.02 L508.25,52.68 L508.10,51.34 L507.76,49.99 L507.22,48.66 L506.48,47.34 L505.56,46.04 L504.45,44.77 L503.17,43.53 M431.33,41.96 L430.13,43.14 L429.11,44.37 L428.28,45.62 L427.64,46.91 L427.19,48.23 L426.94,49.56 L426.89,50.90 L427.04,52.25 L427.38,53.59 L427.92,54.93 L428.66,56.24 L429.58,57.54 L430.69,58.81 L431.97,60.05 L433.44,61.24 L435.06,62.39 L436.85,63.49 L438.78,64.53 L440.86,65.51 L443.06,66.42 L445.39,67.26 L447.82,68.03 L450.35,68.72 L452.96,69.32 L455.65,69.84 L458.39,70.27 L461.18,70.61 L464.00,70.86 L466.83,71.01 M467.05,65.26 L469.71,65.32 L472.37,65.29 L475.00,65.17 L477.59,64.96 L480.14,64.67 L482.62,64.30 L485.03,63.84 L487.36,63.30 L489.60,62.68 L491.72,61.98 L493.73,61.22 L495.62,60.38 L497.37,59.49 L498.97,58.53 L500.42,57.52 L501.71,56.45 L502.84,55.35 L503.79,54.20 L504.57,53.02 L505.17,51.81 L505.59,50.58 L505.83,49.33 L505.88,48.07 L505.74,46.81 L505.42,45.55 L504.91,44.30 L504.22,43.06 L503.36,41.85 L502.32,40.66 L501.11,39.50 L499.74,38.38 L498.22,37.30 M436.52,35.95 L435.07,36.96 L433.78,38.02 L432.65,39.13 L431.70,40.28 L430.92,41.46 L430.32,42.67 L429.90,43.90 L429.66,45.15 L429.62,46.40 L429.75,47.67 L430.08,48.93 L430.58,50.18 L431.27,51.41 L432.13,52.63 L433.17,53.82 L434.38,54.98 L435.75,56.10 L437.27,57.18 L438.95,58.21 L440.76,59.18 L442.71,60.10 L444.77,60.95 L446.95,61.74 L449.23,62.46 L451.60,63.10 L454.05,63.67 L456.57,64.16 L459.14,64.56 L461.75,64.88 L464.40,65.11 L467.05,65.26 M467.27,59.52 L469.71,59.58 L472.14,59.55 L474.55,59.44 L476.93,59.26 L479.26,58.99 L481.54,58.64 L483.75,58.22 L485.88,57.73 L487.93,57.16 L489.87,56.53 L491.72,55.82 L493.44,55.06 L495.04,54.24 L496.51,53.36 L497.84,52.43 L499.02,51.46 L500.06,50.45 L500.93,49.40 L501.65,48.31 L502.20,47.21 L502.58,46.08 L502.79,44.94 L502.84,43.78 L502.71,42.63 L502.42,41.47 L501.95,40.33 L501.32,39.19 L500.53,38.08 L499.58,36.99 L498.47,35.93 L497.22,34.90 L495.82,33.91 L494.29,32.97 L492.63,32.08 M442.37,30.98 L440.77,31.80 L439.30,32.68 L437.97,33.60 L436.79,34.58 L435.76,35.59 L434.88,36.64 L434.17,37.72 L433.62,38.83 L433.24,39.96 L433.02,41.10 L432.98,42.25 L433.10,43.41 L433.40,44.56 L433.86,45.71 L434.49,46.84 L435.28,47.96 L436.24,49.05 L437.34,50.11 L438.60,51.14 L439.99,52.12 L441.53,53.07 L443.19,53.96 L444.97,54.80 L446.86,55.58 L448.86,56.31 L450.95,56.96 L453.12,57.55 L455.37,58.07 L457.67,58.52 L460.02,58.89 L462.42,59.18 L464.84,59.39 L467.27,59.52 M467.49,53.91 L469.66,53.96 L471.83,53.94 L473.97,53.84 L476.09,53.67 L478.17,53.44 L480.20,53.13 L482.17,52.75 L484.07,52.31 L485.90,51.81 L487.63,51.24 L489.27,50.62 L490.81,49.94 L492.24,49.20 L493.55,48.42 L494.73,47.59 L495.79,46.73 L496.71,45.82 L497.49,44.89 L498.12,43.92 L498.62,42.94 L498.96,41.93 L499.15,40.91 L499.19,39.88 L499.07,38.85 L498.81,37.83 L498.40,36.80 L497.84,35.79 L497.13,34.80 L496.28,33.83 L495.30,32.88 L494.18,31.97 L492.93,31.09 L491.57,30.25 L490.09,29.45 L488.50,28.70 L486.81,28.00 L485.03,27.36 L483.17,26.78 M452.04,26.09 L450.21,26.60 L448.48,27.16 L446.83,27.79 L445.30,28.47 L443.87,29.20 L442.56,29.99 L441.38,30.81 L440.32,31.68 L439.40,32.58 L438.62,33.52 L437.98,34.48 L437.49,35.47 L437.15,36.48 L436.96,37.49 L436.92,38.52 L437.03,39.55 L437.30,40.58 L437.71,41.60 L438.27,42.61 L438.98,43.61 L439.82,44.58 L440.81,45.52 L441.93,46.44 L443.17,47.32 L444.54,48.16 L446.02,48.95 L447.61,49.70 L449.30,50.40 L451.08,51.05 L452.94,51.63 L454.88,52.16 L456.88,52.62 L458.93,53.02 L461.03,53.34 L463.16,53.61 L465.32,53.80 L467.49,53.91 M467.70,48.52 L469.57,48.56 L471.43,48.54 L473.28,48.46 L475.10,48.32 L476.89,48.11 L478.64,47.85 L480.34,47.52 L481.97,47.14 L483.54,46.71 L485.04,46.22 L486.45,45.68 L487.77,45.10 L489.00,44.47 L490.13,43.79 L491.15,43.08 L492.06,42.33 L492.85,41.56 L493.52,40.75 L494.07,39.92 L494.49,39.07 L494.79,38.20 L494.95,37.33 L494.99,36.44 L494.89,35.56 L494.66,34.67 L494.31,33.79 L493.82,32.92 L493.22,32.07 L492.49,31.23 L491.64,30.42 L490.67,29.63 L489.60,28.87 L488.43,28.15 L487.15,27.46 L485.78,26.82 L484.33,26.22 L482.80,25.66 L481.20,25.16 L479.53,24.70 L477.81,24.31 L476.04,23.97 L474.23,23.68 L472.39,23.46 L470.54,23.29 L468.67,23.19 L466.80,23.15 L464.93,23.17 L463.09,23.25 L461.26,23.40 L459.47,23.60 L457.73,23.87 L456.03,24.19 L454.39,24.57 L452.82,25.00 L451.33,25.49 L449.91,26.03 L448.59,26.62 L447.36,27.25 L446.23,27.92 L445.21,28.63 L444.31,29.38 L443.51,30.16 L442.84,30.96 L442.29,31.79 L441.87,32.64 L441.58,33.51 L441.41,34.39 L441.38,35.27 L441.48,36.16 L441.70,37.04 L442.06,37.92 L442.54,38.79 L443.15,39.65 L443.88,40.48 L444.73,41.30 L445.69,42.09 L446.76,42.84 L447.94,43.57 L449.21,44.25 L450.58,44.90 L452.03,45.50 L453.57,46.05 L455.17,46.56 L456.84,47.01 L458.56,47.41 L460.33,47.75 L462.13,48.03 L463.97,48.26 L465.83,48.42 L467.70,48.52 M467.89,43.44 L469.43,43.47 L470.96,43.46 L472.48,43.39 L473.97,43.27 L475.44,43.10 L476.88,42.88 L478.27,42.62 L479.62,42.31 L480.91,41.95 L482.13,41.55 L483.30,41.11 L484.38,40.63 L485.39,40.11 L486.32,39.55 L487.16,38.97 L487.90,38.36 L488.55,37.72 L489.10,37.06 L489.55,36.37 L489.90,35.68 L490.14,34.97 L490.28,34.25 L490.31,33.52 L490.23,32.79 L490.04,32.06 L489.75,31.34 L489.35,30.63 L488.85,29.92 L488.25,29.24 L487.56,28.57 L486.76,27.92 L485.88,27.30 L484.92,26.70 L483.87,26.14 L482.75,25.61 L481.55,25.12 L480.30,24.66 L478.98,24.25 L477.61,23.88 L476.20,23.55 L474.74,23.27 L473.26,23.04 L471.75,22.85 L470.23,22.72 L468.69,22.63 L467.15,22.60 L465.62,22.62 L464.10,22.69 L462.61,22.80 L461.14,22.97 L459.70,23.19 L458.31,23.45 L456.96,23.77 L455.67,24.12 L454.45,24.52 L453.29,24.97 L452.20,25.45 L451.19,25.97 L450.26,26.52 L449.43,27.10 L448.68,27.72 L448.03,28.36 L447.48,29.02 L447.03,29.70 L446.68,30.40 L446.44,31.11 L446.30,31.83 L446.28,32.55 L446.36,33.28 L446.54,34.01 L446.83,34.73 L447.23,35.45 L447.73,36.15 L448.33,36.84 L449.03,37.51 L449.82,38.15 L450.70,38.77 L451.66,39.37 L452.71,39.93 L453.83,40.46 L455.03,40.96 L456.29,41.41 L457.60,41.82 L458.97,42.20 L460.39,42.52 L461.84,42.80 L463.32,43.04 L464.83,43.22 L466.36,43.36 L467.89,43.44 M468.07,38.75 L469.25,38.78 L470.42,38.77 L471.58,38.71 L472.73,38.62 L473.85,38.50 L474.95,38.33 L476.02,38.13 L477.05,37.89 L478.03,37.61 L478.97,37.31 L479.86,36.97 L480.69,36.60 L481.47,36.20 L482.17,35.78 L482.82,35.33 L483.39,34.86 L483.88,34.37 L484.31,33.87 L484.65,33.35 L484.92,32.81 L485.10,32.27 L485.20,31.72 L485.23,31.16 L485.17,30.60 L485.02,30.05 L484.80,29.49 L484.50,28.95 L484.11,28.41 L483.65,27.88 L483.12,27.37 L482.52,26.88 L481.84,26.40 L481.10,25.95 L480.30,25.51 L479.44,25.11 L478.53,24.73 L477.56,24.38 L476.56,24.07 L475.51,23.78 L474.43,23.53 L473.32,23.32 L472.18,23.14 L471.02,23.00 L469.86,22.89 L468.68,22.83 L467.51,22.80 L466.34,22.82 L465.17,22.87 L464.03,22.96 L462.90,23.09 L461.80,23.26 L460.74,23.46 L459.71,23.70 L458.72,23.97 L457.78,24.28 L456.89,24.62 L456.06,24.98 L455.29,25.38 L454.58,25.80 L453.94,26.25 L453.37,26.72 L452.87,27.21 L452.45,27.72 L452.10,28.24 L451.84,28.77 L451.65,29.32 L451.55,29.87 L451.53,30.42 L451.59,30.98 L451.73,31.54 L451.96,32.09 L452.26,32.64 L452.64,33.17 L453.10,33.70 L453.63,34.21 L454.24,34.71 L454.91,35.18 L455.65,35.64 L456.45,36.07 L457.31,36.48 L458.23,36.85 L459.19,37.20 L460.20,37.52 L461.24,37.80 L462.33,38.05 L463.44,38.27 L464.57,38.45 L465.73,38.59 L466.90,38.69 L468.07,38.75 M468.23,34.55 L469.03,34.56 L469.82,34.55 L470.61,34.52 L471.38,34.46 L472.14,34.37 L472.89,34.26 L473.61,34.12 L474.30,33.96 L474.97,33.77 L475.61,33.57 L476.21,33.34 L476.77,33.09 L477.29,32.82 L477.77,32.53 L478.20,32.23 L478.59,31.91 L478.93,31.58 L479.21,31.24 L479.45,30.89 L479.63,30.53 L479.75,30.16 L479.82,29.79 L479.84,29.41 L479.79,29.03 L479.70,28.66 L479.55,28.28 L479.34,27.91 L479.08,27.55 L478.77,27.19 L478.41,26.85 L478.00,26.51 L477.55,26.19 L477.05,25.88 L476.50,25.59 L475.92,25.32 L475.31,25.06 L474.65,24.83 L473.97,24.61 L473.26,24.42 L472.53,24.25 L471.78,24.10 L471.01,23.98 L470.23,23.89 L469.44,23.82 L468.65,23.78 L467.85,23.76 L467.06,23.77 L466.27,23.80 L465.50,23.86 L464.74,23.95 L463.99,24.06 L463.27,24.20 L462.58,24.36 L461.91,24.55 L461.27,24.75 L460.67,24.98 L460.11,25.23 L459.59,25.50 L459.11,25.79 L458.67,26.09 L458.29,26.41 L457.95,26.74 L457.67,27.08 L457.43,27.43 L457.25,27.79 L457.13,28.16 L457.06,28.54 L457.04,28.91 L457.09,29.29 L457.18,29.66 L457.33,30.04 L457.54,30.41 L457.80,30.77 L458.11,31.13 L458.47,31.47 L458.88,31.81 L459.33,32.13 L459.83,32.44 L460.38,32.73 L460.96,33.00 L461.57,33.26 L462.23,33.50 L462.91,33.71 L463.62,33.90 L464.35,34.07 L465.10,34.22 L465.87,34.34 L466.65,34.43 L467.44,34.50 L468.23,34.55 M468.37,30.89 L468.77,30.89 L469.17,30.89 L469.57,30.87 L469.96,30.84 L470.35,30.80 L470.72,30.74 L471.08,30.67 L471.43,30.59 L471.77,30.50 L472.09,30.39 L472.39,30.28 L472.68,30.15 L472.94,30.02 L473.18,29.87 L473.40,29.72 L473.60,29.56 L473.77,29.39 L473.91,29.22 L474.03,29.04 L474.12,28.86 L474.18,28.67 L474.22,28.49 L474.22,28.30 L474.20,28.11 L474.16,27.92 L474.08,27.73 L473.98,27.54 L473.85,27.36 L473.69,27.18 L473.51,27.00 L473.30,26.83 L473.07,26.67 L472.82,26.52 L472.54,26.37 L472.25,26.23 L471.94,26.10 L471.61,25.98 L471.27,25.88 L470.91,25.78 L470.54,25.69 L470.16,25.62 L469.77,25.56 L469.38,25.51 L468.98,25.48 L468.58,25.45 L468.18,25.45 L467.78,25.45 L467.39,25.47 L466.99,25.50 L466.61,25.54 L466.24,25.60 L465.87,25.67 L465.52,25.75 L465.18,25.84 L464.86,25.95 L464.56,26.06 L464.28,26.19 L464.01,26.32 L463.77,26.47 L463.55,26.62 L463.36,26.78 L463.19,26.95 L463.04,27.12 L462.93,27.30 L462.84,27.48 L462.77,27.67 L462.74,27.85 L462.73,28.04 L462.75,28.23 L462.80,28.42 L462.88,28.61 L462.98,28.80 L463.11,28.98 L463.27,29.16 L463.45,29.34 L463.66,29.51 L463.89,29.67 L464.14,29.82 L464.41,29.97 L464.70,30.11 L465.02,30.24 L465.34,30.36 L465.69,30.46 L466.05,30.56 L466.41,30.65 L466.79,30.72 L467.18,30.78 L467.57,30.83 L467.97,30.86 L468.37,30.89 M472.54,109.63 L473.90,109.85 L475.22,109.86 L476.50,109.66 L477.73,109.25 L478.91,108.64 L480.03,107.81 L481.09,106.79 L482.08,105.57 L483.00,104.16 L483.84,102.57 L484.60,100.81 L485.27,98.88 L485.85,96.79 L486.34,94.55 L486.74,92.18 L487.04,89.68 L487.24,87.07 L487.35,84.37 L487.35,81.57 L487.26,78.70 L487.06,75.78 L486.77,72.81 L486.39,69.81 L485.90,66.79 L485.33,63.77 L484.67,60.77 L483.92,57.80 L483.09,54.86 L482.18,51.99 L481.19,49.19 L480.14,46.47 L479.02,43.85 L477.85,41.34 L476.62,38.96 L475.35,36.71 L474.03,34.60 L472.68,32.66 L471.30,30.87 L469.90,29.26 L468.49,27.84 M477.73,108.70 L479.64,108.53 L481.49,108.16 L483.27,107.59 L484.97,106.81 L486.58,105.84 L488.09,104.68 L489.51,103.34 L490.81,101.81 L492.00,100.12 L493.06,98.26 L494.00,96.25 L494.81,94.09 L495.48,91.80 L496.02,89.39 L496.41,86.86 L496.66,84.24 L496.76,81.53 L496.72,78.75 L496.53,75.91 L496.20,73.03 L495.73,70.11 L495.12,67.18 L494.37,64.24 L493.49,61.32 L492.48,58.42 L491.34,55.56 L490.09,52.76 L488.72,50.02 L487.25,47.37 L485.68,44.80 L484.02,42.35 L482.27,40.01 L480.45,37.80 L478.57,35.74 L476.63,33.82 L474.64,32.07 L472.61,30.48 L470.56,29.07 L468.49,27.84 M485.41,106.07 L487.61,105.27 L489.72,104.28 L491.71,103.10 L493.59,101.75 L495.33,100.23 L496.94,98.55 L498.40,96.70 L499.71,94.72 L500.86,92.59 L501.84,90.34 L502.66,87.97 L503.30,85.50 L503.76,82.94 L504.05,80.30 L504.15,77.59 L504.07,74.83 L503.82,72.03 L503.38,69.20 L502.77,66.36 L501.98,63.52 L501.02,60.70 L499.89,57.90 L498.61,55.15 L497.17,52.45 L495.58,49.83 L493.86,47.28 L492.00,44.83 L490.03,42.49 L487.94,40.26 L485.74,38.16 L483.46,36.20 L481.10,34.39 L478.67,32.74 L476.18,31.25 L473.64,29.93 L471.08,28.79 L468.49,27.84 M495.09,99.78 L497.21,98.20 L499.17,96.46 L500.98,94.58 L502.62,92.56 L504.08,90.42 L505.37,88.16 L506.47,85.79 L507.38,83.33 L508.09,80.79 L508.60,78.19 L508.91,75.52 L509.01,72.81 L508.91,70.07 L508.61,67.32 L508.10,64.56 L507.39,61.81 L506.49,59.09 L505.39,56.40 L504.11,53.76 L502.64,51.19 L501.00,48.69 L499.20,46.27 L497.24,43.96 L495.13,41.76 L492.89,39.68 L490.51,37.73 L488.03,35.92 L485.44,34.26 L482.76,32.75 L480.01,31.42 L477.19,30.25 L474.32,29.26 L471.42,28.46 L468.49,27.84 M505.89,85.66 L507.23,83.25 L508.38,80.76 L509.32,78.20 L510.06,75.58 L510.59,72.92 L510.91,70.23 L511.02,67.52 L510.91,64.81 L510.58,62.10 L510.05,59.42 L509.30,56.78 L508.35,54.18 L507.19,51.64 L505.84,49.18 L504.30,46.80 L502.58,44.51 L500.69,42.34 L498.63,40.28 L496.42,38.35 L494.06,36.56 L491.58,34.92 L488.97,33.43 L486.25,32.10 L483.45,30.94 L480.56,29.96 L477.60,29.15 L474.60,28.53 L471.56,28.09 L468.49,27.84 M510.02,62.08 L509.92,59.39 L509.60,56.74 L509.08,54.14 L508.35,51.59 L507.43,49.13 L506.30,46.74 L504.98,44.46 L503.48,42.28 L501.80,40.22 L499.95,38.29 L497.94,36.50 L495.78,34.85 L493.48,33.36 L491.05,32.03 L488.50,30.87 L485.85,29.89 L483.11,29.08 L480.28,28.46 L477.40,28.02 L474.46,27.77 L471.49,27.71 L468.49,27.84 M502.77,42.04 L501.58,39.93 L500.23,37.94 L498.71,36.10 L497.03,34.40 L495.21,32.86 L493.26,31.49 L491.17,30.29 L488.97,29.26 L486.66,28.42 L484.25,27.76 L481.76,27.29 L479.20,27.01 L476.58,26.93 L473.91,27.04 L471.21,27.34 L468.49,27.84 M493.52,32.43 L492.14,30.95 L490.64,29.63 L489.02,28.50 L487.30,27.55 L485.48,26.80 L483.57,26.23 L481.58,25.87 L479.51,25.70 L477.39,25.73 L475.21,25.96 L473.00,26.39 L470.75,27.02 L468.49,27.84 M484.53,27.02 L483.37,26.08 L482.13,25.34 L480.82,24.80 L479.44,24.47 L478.00,24.34 L476.50,24.41 L474.96,24.70 L473.38,25.18 L471.77,25.87 L470.14,26.76 L468.49,27.84 M476.67,24.40 L476.01,23.81 L475.30,23.42 L474.55,23.24 L473.76,23.27 L472.94,23.52 L472.09,23.98 L471.22,24.64 L470.32,25.51 L469.41,26.57 L468.49,27.84 M469.35,23.05 L469.30,22.74 L469.23,22.64 L469.16,22.75 L469.07,23.08 L468.97,23.62 L468.86,24.37 L468.75,25.33 L468.62,26.49 L468.49,27.84 M462.03,23.66 L462.62,23.13 L463.23,22.80 L463.86,22.70 L464.50,22.80 L465.15,23.12 L465.81,23.66 L466.48,24.40 L467.15,25.35 L467.82,26.49 L468.49,27.84 M453.97,25.47 L455.09,24.64 L456.27,24.03 L457.50,23.62 L458.78,23.42 L460.10,23.43 L461.46,23.65 L462.84,24.08 L464.24,24.72 L465.65,25.56 L467.07,26.60 L468.49,27.84 M445.91,28.60 L447.42,27.44 L449.03,26.47 L450.73,25.69 L452.51,25.12 L454.36,24.75 L456.27,24.58 L458.23,24.62 L460.24,24.86 L462.28,25.31 L464.34,25.95 L466.41,26.80 L468.49,27.84 M435.60,36.58 L437.06,34.73 L438.67,33.05 L440.41,31.53 L442.29,30.18 L444.28,29.00 L446.39,28.01 L448.59,27.21 L450.89,26.60 L453.26,26.18 L455.70,25.97 L458.20,25.95 L460.74,26.13 L463.31,26.50 L465.90,27.07 L468.49,27.84 M425.40,55.09 L425.91,52.49 L426.62,49.95 L427.53,47.49 L428.63,45.12 L429.92,42.86 L431.38,40.72 L433.02,38.70 L434.83,36.82 L436.79,35.08 L438.91,33.50 L441.15,32.08 L443.53,30.82 L446.01,29.74 L448.60,28.84 L451.28,28.13 L454.04,27.60 L456.86,27.27 L459.73,27.12 L462.63,27.17 L465.56,27.41 L468.49,27.84 M425.65,79.10 L424.70,76.50 L423.95,73.86 L423.42,71.18 L423.09,68.47 L422.98,65.76 L423.09,63.05 L423.41,60.36 L423.94,57.70 L424.68,55.08 L425.62,52.52 L426.77,50.03 L428.11,47.62 L429.65,45.30 L431.36,43.09 L433.25,40.99 L435.31,39.02 L437.51,37.18 L439.86,35.48 L442.35,33.93 L444.95,32.55 L447.66,31.33 L450.47,30.28 L453.35,29.41 L456.31,28.73 L459.31,28.22 L462.35,27.90 L465.42,27.78 L468.49,27.84 M436.06,96.78 L434.05,94.99 L432.20,93.06 L430.52,91.00 L429.02,88.82 L427.70,86.54 L426.57,84.15 L425.65,81.69 L424.92,79.14 L424.40,76.54 L424.08,73.89 L423.98,71.20 L424.08,68.50 L424.39,65.78 L424.91,63.07 L425.64,60.37 L426.57,57.70 L427.69,55.08 L429.01,52.52 L430.51,50.02 L432.19,47.61 L434.04,45.28 L436.04,43.06 L438.20,40.96 L440.50,38.98 L442.93,37.14 L445.48,35.44 L448.13,33.89 L450.87,32.50 L453.69,31.28 L456.58,30.23 L459.52,29.35 L462.49,28.66 L465.49,28.16 L468.49,27.84 M445.03,104.02 L442.83,102.99 L440.74,101.79 L438.79,100.42 L436.97,98.88 L435.29,97.18 L433.77,95.34 L432.42,93.35 L431.23,91.24 L430.21,89.00 L429.38,86.66 L428.73,84.22 L428.26,81.69 L427.98,79.09 L427.90,76.43 L428.00,73.72 L428.30,70.98 L428.78,68.21 L429.45,65.44 L430.30,62.68 L431.33,59.93 L432.53,57.22 L433.91,54.55 L435.44,51.94 L437.13,49.40 L438.96,46.95 L440.93,44.59 L443.03,42.34 L445.24,40.21 L447.56,38.21 L449.97,36.34 L452.47,34.63 L455.04,33.07 L457.66,31.67 L460.33,30.44 L463.04,29.39 L465.76,28.52 L468.49,27.84 M452.42,107.41 L450.43,107.05 L448.52,106.48 L446.70,105.73 L444.98,104.78 L443.36,103.65 L441.86,102.33 L440.48,100.85 L439.23,99.19 L438.12,97.38 L437.15,95.42 L436.32,93.32 L435.64,91.08 L435.12,88.73 L434.75,86.27 L434.54,83.72 L434.48,81.08 L434.59,78.37 L434.85,75.61 L435.27,72.80 L435.84,69.96 L436.56,67.10 L437.44,64.25 L438.45,61.40 L439.61,58.58 L440.90,55.80 L442.32,53.07 L443.86,50.41 L445.51,47.82 L447.26,45.33 L449.11,42.95 L451.05,40.67 L453.06,38.53 L455.15,36.52 L457.29,34.66 L459.48,32.95 L461.70,31.41 L463.95,30.04 L466.22,28.85 L468.49,27.84 M457.50,108.87 L456.00,108.94 L454.56,108.81 L453.18,108.48 L451.87,107.94 L450.63,107.20 L449.47,106.26 L448.40,105.13 L447.42,103.81 L446.53,102.31 L445.74,100.64 L445.06,98.80 L444.48,96.80 L444.01,94.66 L443.66,92.38 L443.42,89.98 L443.29,87.46 L443.28,84.84 L443.38,82.13 L443.60,79.35 L443.93,76.50 L444.38,73.61 L444.93,70.68 L445.60,67.73 L446.36,64.78 L447.23,61.84 L448.20,58.92 L449.25,56.03 L450.40,53.20 L451.62,50.44 L452.92,47.75 L454.28,45.16 L455.71,42.67 L457.20,40.29 L458.73,38.05 L460.30,35.94 L461.90,33.99 L463.53,32.19 L465.18,30.56 L466.83,29.11 L468.49,27.84 M461.06,109.76 L460.24,110.01 L459.45,110.04 L458.70,109.86 L457.99,109.47 L457.33,108.88 L456.71,108.08 L456.14,107.07 L455.62,105.87 L455.16,104.48 L454.76,102.90 L454.42,101.15 L454.14,99.23 L453.92,97.15 L453.76,94.92 L453.67,92.55 L453.65,90.06 L453.69,87.45 L453.79,84.74 L453.96,81.95 L454.19,79.07 L454.48,76.14 L454.84,73.16 L455.25,70.16 L455.73,67.13 L456.25,64.10 L456.83,61.08 L457.46,58.09 L458.14,55.14 L458.85,52.25 L459.61,49.43 L460.41,46.69 L461.23,44.05 L462.09,41.52 L462.96,39.11 L463.86,36.84 L464.77,34.71 L465.70,32.73 L466.63,30.93 L467.56,29.29 L468.49,27.84 M464.93,110.20 L464.84,110.53 L464.77,110.64 L464.70,110.54 L464.65,110.23 L464.60,109.70 L464.57,108.97 L464.55,108.03 L464.54,106.88 L464.55,105.54 L464.56,104.01 L464.59,102.30 L464.63,100.42 L464.68,98.37 L464.75,96.16 L464.82,93.82 L464.90,91.34 L465.00,88.74 L465.10,86.03 L465.22,83.22 L465.34,80.34 L465.47,77.39 L465.60,74.39 L465.75,71.35 L465.90,68.28 L466.06,65.21 L466.22,62.15 L466.38,59.11 L466.55,56.10 L466.72,53.15 L466.89,50.26 L467.06,47.45 L467.23,44.73 L467.40,42.12 L467.57,39.63 L467.73,37.28 L467.89,35.06 L468.05,33.00 L468.20,31.10 L468.35,29.38 L468.49,27.84 M468.85,110.16 L469.50,110.48 L470.14,110.58 L470.77,110.48 L471.38,110.15 L471.97,109.62 L472.53,108.88 L473.06,107.93 L473.57,106.78 L474.04,105.44 L474.48,103.90 L474.89,102.19 L475.25,100.30 L475.58,98.25 L475.86,96.04 L476.10,93.69 L476.29,91.21 L476.44,88.61 L476.55,85.90 L476.60,83.10 L476.62,80.21 L476.58,77.27 L476.50,74.27 L476.37,71.23 L476.19,68.17 L475.97,65.10 L475.71,62.04 L475.40,59.00 L475.06,56.00 L474.67,53.06 L474.25,50.17 L473.79,47.37 L473.30,44.66 L472.78,42.06 L472.23,39.58 L471.65,37.23 L471.05,35.03 L470.43,32.97 L469.80,31.09 L469.15,29.37 L468.49,27.84" fill="none" stroke="#808080" stroke-width="0.5"/>
<circle cx="467.0" cy="66.64" r="44.06" fill="none" stroke="#aaaaaa" stroke-width="0.5"/>
<path d="M487.31,85.73 L486.28,85.95 L485.23,86.15 L484.18,86.33 L483.11,86.51 L482.03,86.67 L480.94,86.82 L479.85,86.95 L478.74,87.07 L477.62,87.17 L476.50,87.27 L475.37,87.34 L474.24,87.41 L473.10,87.45 L471.95,87.49 L470.81,87.51 L469.66,87.51 L468.51,87.51 L467.35,87.48 L466.20,87.45 L465.05,87.39 L463.90,87.33 L462.75,87.25 L461.60,87.15 L460.46,87.05 L459.32,86.92 L458.19,86.79 L457.06,86.64 L455.94,86.48 L454.83,86.30 L453.73,86.11 L452.63,85.90 L451.55,85.69 L450.48,85.46 L449.41,85.21 L448.36,84.96 L447.32,84.69 L446.30,84.41 L445.29,84.12 L444.29,83.81 L443.31,83.50 L442.35,83.17 L441.40,82.83 L440.47,82.48 L439.56,82.12 L438.67,81.74 L437.80,81.36 L436.95,80.97 L436.11,80.57 L435.30,80.16 L434.51,79.73 L433.75,79.30 L433.00,78.87 L432.28,78.42 L431.58,77.96 L430.91,77.50 L430.26,77.03 L429.64,76.55 L429.04,76.07 L428.47,75.58 L427.93,75.08 L427.41,74.58 L426.92,74.07 L426.45,73.56 L426.02,73.04 L425.61,72.52 L425.23,71.99 L424.88,71.46 L424.56,70.93 L424.27,70.39 L424.00,69.85 L423.77,69.31 L423.56,68.77 L423.39,68.22 L423.24,67.68 L423.13,67.13 L423.05,66.59 L422.99,66.04 L422.97,65.49 L422.97,64.95 L423.01,64.40 L423.07,63.86 L423.17,63.32 L423.30,62.78 L423.45,62.25 L423.64,61.71 L423.86,61.19 L424.10,60.66 L424.38,60.14 M510.23,63.97 L510.44,64.51 L510.61,65.06 L510.76,65.60 L510.87,66.15 L510.95,66.69 L511.01,67.24 L511.03,67.79 L511.03,68.33 L510.99,68.88 L510.93,69.42 L510.83,69.96 L510.70,70.50 L510.55,71.03 L510.36,71.57 L510.14,72.09 L509.90,72.62 L509.62,73.14 L509.32,73.66 L508.99,74.17 L508.63,74.68 L508.24,75.18 L507.82,75.67 L507.37,76.16 L506.90,76.65 L506.39,77.12 L505.87,77.59 L505.31,78.05 L504.73,78.51 L504.12,78.95 L503.49,79.39 L502.83,79.82 L502.15,80.24 L501.44,80.65 L500.71,81.05 L499.96,81.44 L499.18,81.82 L498.39,82.19 L497.57,82.55 L496.73,82.90 L495.87,83.23 L494.99,83.56 L494.09,83.87 L493.17,84.18 L492.23,84.47 L491.28,84.74 L490.31,85.01 L489.32,85.26 L488.32,85.50 L487.31,85.73" fill="none" stroke="#2a3cf0" stroke-width="1.2"/>
<path d="M467.13,28.16 L468.08,27.93 L469.04,27.72 L469.99,27.54 L470.94,27.38 L471.89,27.25 L472.84,27.14 L473.78,27.05 L474.72,26.99 L475.65,26.95 L476.58,26.93 L477.51,26.94 L478.42,26.97 L479.33,27.02 L480.24,27.10 L481.13,27.20 L482.02,27.33 L482.89,27.48 L483.76,27.65 L484.62,27.85 L485.47,28.07 L486.31,28.31 L487.13,28.57 L487.94,28.86 L488.74,29.17 L489.53,29.50 L490.31,29.86 L491.07,30.23 L491.81,30.63 L492.54,31.05 L493.26,31.49 L493.96,31.95 L494.64,32.43 L495.31,32.94 L495.96,33.46 L496.59,34.00 L497.21,34.57 L497.81,35.15 L498.39,35.75 L498.95,36.37 L499.49,37.00 L500.01,37.66 L500.51,38.33 L500.99,39.02 L501.46,39.72 L501.90,40.45 L502.32,41.18 L502.72,41.94 L503.10,42.70 L503.45,43.48 L503.79,44.28" fill="none" stroke="#2a3cf0" stroke-width="1.2"/>
<path d="M487.31,85.73 L488.08,85.56 L488.84,85.38 L489.60,85.19 L490.34,85.00 L491.08,84.80 L491.81,84.59 L492.52,84.38 L493.23,84.16 L493.93,83.93 L494.61,83.69 L495.29,83.45 L495.95,83.20 L496.61,82.94 L497.25,82.68 L497.88,82.41 L498.49,82.14 L499.10,81.86 L499.69,81.57 L500.27,81.28 L500.84,80.98 L501.39,80.68 L501.93,80.37 L502.45,80.05 L502.97,79.73 L503.46,79.41 L503.95,79.08 L504.41,78.74 L504.87,78.40 L505.31,78.06 L505.73,77.71 L506.14,77.35 L506.53,77.00 L506.91,76.64 L507.27,76.27 L507.62,75.90 L507.95,75.53 L508.26,75.15 L508.56,74.77 L508.84,74.39 L509.10,74.00 L509.35,73.61 L509.58,73.22 L509.80,72.82 L509.99,72.43 L510.17,72.03 L510.34,71.63 L510.48,71.22 L510.61,70.82 L510.72,70.41 L510.82,70.00 L510.90,69.59 L510.96,69.18 L511.00,68.77 L511.03,68.36 L511.03,67.95 L511.03,67.53 L511.00,67.12 L510.96,66.70 L510.89,66.29 L510.82,65.87 L510.72,65.46 L510.61,65.05 L510.48,64.63 L510.33,64.22 L510.17,63.81 L509.99,63.40 M487.31,85.73 L488.07,85.41 L488.82,85.09 L489.57,84.75 L490.30,84.41 L491.03,84.07 L491.75,83.71 L492.46,83.35 L493.16,82.98 L493.85,82.61 L494.52,82.23 L495.19,81.84 L495.84,81.45 L496.49,81.05 L497.12,80.65 L497.74,80.24 L498.35,79.83 L498.95,79.41 L499.53,78.98 L500.10,78.55 L500.66,78.12 L501.20,77.68 L501.73,77.23 L502.25,76.79 L502.75,76.34 L503.24,75.88 L503.72,75.42 L504.18,74.96 L504.62,74.49 L505.06,74.02 L505.47,73.55 L505.87,73.08 L506.26,72.60 L506.63,72.12 L506.98,71.64 L507.32,71.16 L507.64,70.67 L507.95,70.19 L508.24,69.70 L508.52,69.21 L508.77,68.72 L509.02,68.23 L509.24,67.73 L509.45,67.24 L509.64,66.75 L509.81,66.26 L509.97,65.76 L510.11,65.27 L510.24,64.78 L510.34,64.29 L510.43,63.80 L510.51,63.31 L510.56,62.82 L510.60,62.34 L510.62,61.85 L510.63,61.37 L510.61,60.89 L510.58,60.41 L510.54,59.94 L510.47,59.46 L510.39,58.99 L510.29,58.53 L510.17,58.06 L510.04,57.60 L509.89,57.15 L509.72,56.69 L509.54,56.24 L509.34,55.80 L509.12,55.36 L508.89,54.92 L508.64,54.49 L508.37,54.06 L508.09,53.64 M487.31,85.73 L488.03,85.28 L488.75,84.82 L489.45,84.35 L490.15,83.87 L490.84,83.39 L491.52,82.90 L492.19,82.41 L492.85,81.91 L493.50,81.40 L494.14,80.89 L494.77,80.37 L495.39,79.85 L495.99,79.32 L496.59,78.78 L497.17,78.25 L497.74,77.70 L498.30,77.15 L498.85,76.60 L499.38,76.05 L499.91,75.49 L500.42,74.92 L500.91,74.36 L501.39,73.79 L501.86,73.22 L502.32,72.64 L502.76,72.07 L503.19,71.49 L503.60,70.91 L504.00,70.32 L504.38,69.74 L504.75,69.15 L505.10,68.57 L505.44,67.98 L505.77,67.39 L506.08,66.80 L506.37,66.22 L506.65,65.63 L506.91,65.04 L507.16,64.45 L507.39,63.87 L507.60,63.28 L507.80,62.70 L507.98,62.12 L508.15,61.54 L508.30,60.96 L508.43,60.38 L508.55,59.81 L508.65,59.24 L508.74,58.67 L508.81,58.11 L508.86,57.54 L508.89,56.99 L508.91,56.43 L508.92,55.88 L508.90,55.34 L508.87,54.80 L508.82,54.26 L508.76,53.73 L508.68,53.20 L508.58,52.68 L508.47,52.16 L508.34,51.65 L508.20,51.15 L508.03,50.65 L507.86,50.16 L507.66,49.67 L507.45,49.20 L507.23,48.72 L506.98,48.26 L506.73,47.80 L506.45,47.35 L506.16,46.91 L505.86,46.47 L505.54,46.05 L505.21,45.63 L504.86,45.22 L504.49,44.82 L504.11,44.42 L503.72,44.04 M487.31,85.73 L487.96,85.16 L488.61,84.58 L489.25,84.00 L489.88,83.40 L490.51,82.81 L491.12,82.20 L491.73,81.59 L492.32,80.97 L492.90,80.35 L493.48,79.72 L494.04,79.09 L494.59,78.45 L495.14,77.81 L495.67,77.16 L496.19,76.51 L496.70,75.85 L497.19,75.19 L497.68,74.53 L498.15,73.86 L498.61,73.20 L499.06,72.52 L499.49,71.85 L499.92,71.18 L500.32,70.50 L500.72,69.82 L501.10,69.14 L501.47,68.46 L501.83,67.78 L502.17,67.10 L502.50,66.41 L502.81,65.73 L503.11,65.05 L503.40,64.37 L503.67,63.69 L503.93,63.01 L504.17,62.33 L504.40,61.65 L504.61,60.98 L504.81,60.31 L505.00,59.64 L505.16,58.97 L505.32,58.31 L505.46,57.65 L505.58,56.99 L505.69,56.34 L505.78,55.69 L505.86,55.05 L505.92,54.41 L505.97,53.77 L506.00,53.14 L506.01,52.52 L506.02,51.90 L506.00,51.28 L505.97,50.68 L505.93,50.08 L505.86,49.48 L505.79,48.89 L505.70,48.31 L505.59,47.74 L505.47,47.17 L505.33,46.61 L505.18,46.06 L505.01,45.52 L504.83,44.99 L504.63,44.46 L504.42,43.95 L504.20,43.44 L503.95,42.94 L503.70,42.45 L503.43,41.97 L503.14,41.50 L502.85,41.04 L502.53,40.59 L502.21,40.15 L501.86,39.72 L501.51,39.30 L501.14,38.89 L500.76,38.50 L500.37,38.11 L499.96,37.74 M487.31,85.73 L487.87,85.06 L488.43,84.39 L488.98,83.71 L489.52,83.02 L490.05,82.33 L490.57,81.63 L491.08,80.92 L491.59,80.21 L492.08,79.49 L492.56,78.77 L493.04,78.04 L493.50,77.31 L493.95,76.57 L494.40,75.83 L494.83,75.09 L495.25,74.34 L495.66,73.59 L496.06,72.84 L496.44,72.08 L496.82,71.33 L497.18,70.57 L497.53,69.81 L497.87,69.05 L498.20,68.28 L498.51,67.52 L498.82,66.76 L499.11,65.99 L499.38,65.23 L499.65,64.47 L499.90,63.70 L500.14,62.94 L500.37,62.18 L500.58,61.42 L500.78,60.67 L500.96,59.92 L501.14,59.17 L501.29,58.42 L501.44,57.67 L501.57,56.93 L501.69,56.19 L501.80,55.46 L501.89,54.73 L501.96,54.01 L502.03,53.29 L502.08,52.58 L502.11,51.87 L502.13,51.17 L502.14,50.47 L502.14,49.78 L502.12,49.10 L502.08,48.42 L502.04,47.75 L501.98,47.09 L501.90,46.43 L501.81,45.79 L501.71,45.15 L501.60,44.52 L501.47,43.90 L501.32,43.29 L501.17,42.69 L501.00,42.09 L500.81,41.51 L500.62,40.94 L500.40,40.37 L500.18,39.82 L499.95,39.28 L499.70,38.75 L499.43,38.23 L499.16,37.72 L498.87,37.22 L498.57,36.73 L498.26,36.26 L497.93,35.79 L497.60,35.34 L497.25,34.91 L496.89,34.48 L496.51,34.07 L496.13,33.67 L495.73,33.28 L495.32,32.91 M487.31,85.73 L487.76,84.99 L488.20,84.25 L488.64,83.50 L489.06,82.74 L489.48,81.98 L489.89,81.20 L490.29,80.43 L490.68,79.65 L491.06,78.86 L491.43,78.07 L491.80,77.27 L492.15,76.47 L492.49,75.67 L492.82,74.86 L493.15,74.05 L493.46,73.23 L493.76,72.42 L494.05,71.60 L494.33,70.78 L494.60,69.96 L494.86,69.13 L495.11,68.31 L495.34,67.48 L495.57,66.66 L495.78,65.83 L495.99,65.01 L496.18,64.18 L496.36,63.36 L496.53,62.53 L496.68,61.71 L496.83,60.89 L496.96,60.08 L497.08,59.26 L497.19,58.45 L497.29,57.65 L497.38,56.84 L497.45,56.04 L497.51,55.24 L497.56,54.45 L497.60,53.67 L497.63,52.88 L497.64,52.11 L497.64,51.34 L497.63,50.57 L497.61,49.81 L497.57,49.06 L497.53,48.32 L497.47,47.58 L497.40,46.85 L497.31,46.13 L497.22,45.41 L497.11,44.71 L496.99,44.01 L496.86,43.32 L496.72,42.64 L496.57,41.97 L496.40,41.31 L496.23,40.66 L496.04,40.02 L495.84,39.39 L495.63,38.77 L495.40,38.17 L495.17,37.57 L494.93,36.99 L494.67,36.41 L494.40,35.85 L494.13,35.30 L493.84,34.77 L493.54,34.24 L493.23,33.73 L492.91,33.23 L492.58,32.75 L492.24,32.27 L491.89,31.82 L491.53,31.37 L491.16,30.94 L490.78,30.52 L490.39,30.12 L490.00,29.73 L489.59,29.36 M487.31,85.73 L487.63,84.95 L487.94,84.16 L488.24,83.37 L488.54,82.57 L488.82,81.76 L489.10,80.95 L489.37,80.13 L489.63,79.31 L489.88,78.48 L490.13,77.65 L490.36,76.81 L490.59,75.97 L490.80,75.12 L491.01,74.28 L491.20,73.42 L491.39,72.57 L491.57,71.71 L491.74,70.86 L491.89,70.00 L492.04,69.13 L492.18,68.27 L492.31,67.41 L492.43,66.54 L492.53,65.68 L492.63,64.82 L492.72,63.96 L492.80,63.09 L492.87,62.24 L492.92,61.38 L492.97,60.52 L493.01,59.67 L493.03,58.82 L493.05,57.97 L493.06,57.12 L493.05,56.28 L493.04,55.45 L493.01,54.62 L492.98,53.79 L492.93,52.97 L492.88,52.15 L492.81,51.34 L492.74,50.53 L492.65,49.73 L492.56,48.94 L492.45,48.16 L492.34,47.38 L492.21,46.61 L492.07,45.85 L491.93,45.09 L491.77,44.35 L491.61,43.61 L491.43,42.88 L491.25,42.16 L491.05,41.45 L490.85,40.75 L490.64,40.07 L490.41,39.39 L490.18,38.72 L489.94,38.06 L489.69,37.42 L489.43,36.78 L489.17,36.16 L488.89,35.55 L488.60,34.95 L488.31,34.37 L488.01,33.80 L487.70,33.24 L487.38,32.69 L487.05,32.16 L486.72,31.64 L486.38,31.13 L486.03,30.64 L485.67,30.16 L485.31,29.70 L484.93,29.25 L484.56,28.82 L484.17,28.40 L483.78,28.00 L483.38,27.61 L482.97,27.23 M487.31,85.73 L487.48,84.94 L487.65,84.14 L487.81,83.33 L487.96,82.52 L488.11,81.70 L488.24,80.88 L488.37,80.05 L488.49,79.21 L488.60,78.37 L488.70,77.53 L488.79,76.68 L488.88,75.82 L488.95,74.97 L489.02,74.10 L489.08,73.24 L489.13,72.38 L489.17,71.51 L489.20,70.64 L489.22,69.77 L489.24,68.89 L489.25,68.02 L489.24,67.14 L489.23,66.27 L489.21,65.39 L489.18,64.52 L489.14,63.65 L489.10,62.78 L489.04,61.91 L488.98,61.04 L488.91,60.17 L488.82,59.31 L488.74,58.45 L488.64,57.59 L488.53,56.73 L488.41,55.88 L488.29,55.04 L488.16,54.20 L488.02,53.36 L487.87,52.53 L487.71,51.70 L487.55,50.88 L487.37,50.07 L487.19,49.26 L487.00,48.46 L486.81,47.67 L486.60,46.88 L486.39,46.11 L486.17,45.34 L485.94,44.57 L485.70,43.82 L485.46,43.08 L485.21,42.34 L484.95,41.62 L484.69,40.90 L484.42,40.20 L484.14,39.51 L483.86,38.82 L483.56,38.15 L483.27,37.49 L482.96,36.84 L482.65,36.20 L482.33,35.57 L482.01,34.96 L481.68,34.36 L481.35,33.77 L481.01,33.19 L480.66,32.63 L480.31,32.08 L479.95,31.55 L479.59,31.02 L479.23,30.52 L478.86,30.02 L478.48,29.54 L478.10,29.08 L477.71,28.63 L477.32,28.20 L476.93,27.78 L476.53,27.37 L476.13,26.98 L475.73,26.61 M487.31,85.73 L487.33,84.96 L487.35,84.18 L487.36,83.39 L487.36,82.59 L487.35,81.79 L487.34,80.98 L487.32,80.17 L487.29,79.35 L487.25,78.53 L487.20,77.70 L487.15,76.87 L487.08,76.04 L487.01,75.20 L486.94,74.35 L486.85,73.51 L486.76,72.66 L486.65,71.81 L486.54,70.95 L486.43,70.10 L486.30,69.24 L486.17,68.38 L486.03,67.53 L485.88,66.67 L485.73,65.81 L485.57,64.95 L485.40,64.09 L485.22,63.24 L485.03,62.38 L484.84,61.53 L484.65,60.68 L484.44,59.83 L484.23,58.98 L484.01,58.14 L483.78,57.30 L483.55,56.46 L483.31,55.63 L483.07,54.80 L482.82,53.98 L482.56,53.16 L482.30,52.35 L482.03,51.54 L481.75,50.74 L481.47,49.94 L481.18,49.15 L480.89,48.37 L480.59,47.60 L480.29,46.83 L479.98,46.07 L479.66,45.32 L479.34,44.58 L479.02,43.84 L478.69,43.12 L478.36,42.40 L478.02,41.70 L477.68,41.00 L477.33,40.31 L476.98,39.64 L476.63,38.97 L476.27,38.32 L475.91,37.68 L475.54,37.04 L475.18,36.42 L474.80,35.82 L474.43,35.22 L474.05,34.64 L473.67,34.06 L473.29,33.51 L472.90,32.96 L472.51,32.43 L472.12,31.91 L471.73,31.41 L471.34,30.92 L470.94,30.44 L470.54,29.98 L470.15,29.53 L469.75,29.09 L469.34,28.68 L468.94,28.27 L468.54,27.88 L468.14,27.51 M487.31,85.73 L487.18,85.00 L487.05,84.27 L486.90,83.53 L486.75,82.78 L486.60,82.03 L486.43,81.27 L486.26,80.50 L486.08,79.73 L485.89,78.96 L485.69,78.18 L485.49,77.39 L485.28,76.60 L485.06,75.81 L484.84,75.01 L484.60,74.21 L484.37,73.40 L484.12,72.60 L483.87,71.79 L483.61,70.98 L483.34,70.17 L483.07,69.35 L482.79,68.54 L482.51,67.72 L482.22,66.91 L481.92,66.09 L481.62,65.27 L481.31,64.46 L481.00,63.64 L480.68,62.83 L480.35,62.02 L480.02,61.21 L479.69,60.40 L479.35,59.59 L479.00,58.79 L478.65,57.99 L478.30,57.20 L477.94,56.40 L477.58,55.62 L477.21,54.83 L476.84,54.05 L476.46,53.28 L476.08,52.51 L475.70,51.74 L475.32,50.99 L474.93,50.24 L474.53,49.49 L474.14,48.75 L473.74,48.02 L473.34,47.30 L472.94,46.58 L472.53,45.87 L472.12,45.17 L471.71,44.48 L471.30,43.80 L470.89,43.12 L470.47,42.46 L470.06,41.80 L469.64,41.16 L469.22,40.52 L468.80,39.90 L468.38,39.28 L467.96,38.68 L467.54,38.09 L467.12,37.50 L466.70,36.93 L466.28,36.38 L465.86,35.83 L465.44,35.30 L465.02,34.77 L464.60,34.26 L464.18,33.77 L463.76,33.28 L463.35,32.81 L462.93,32.36 L462.52,31.91 L462.11,31.48 L461.70,31.07 L461.29,30.66 L460.89,30.28 L460.49,29.90 M487.31,85.73 L487.03,85.08 L486.75,84.42 L486.46,83.76 L486.16,83.08 L485.86,82.40 L485.55,81.72 L485.23,81.03 L484.90,80.33 L484.57,79.63 L484.23,78.92 L483.88,78.21 L483.53,77.49 L483.17,76.77 L482.80,76.05 L482.43,75.32 L482.05,74.59 L481.66,73.85 L481.27,73.12 L480.88,72.37 L480.48,71.63 L480.07,70.89 L479.66,70.14 L479.24,69.39 L478.82,68.64 L478.39,67.89 L477.96,67.14 L477.52,66.39 L477.08,65.64 L476.64,64.89 L476.19,64.15 L475.74,63.40 L475.29,62.65 L474.83,61.90 L474.37,61.16 L473.91,60.42 L473.44,59.68 L472.97,58.95 L472.50,58.21 L472.03,57.48 L471.55,56.76 L471.07,56.03 L470.59,55.32 L470.11,54.60 L469.63,53.89 L469.15,53.19 L468.67,52.49 L468.18,51.80 L467.70,51.11 L467.21,50.43 L466.73,49.76 L466.24,49.09 L465.76,48.43 L465.27,47.77 L464.79,47.13 L464.31,46.49 L463.83,45.86 L463.35,45.23 L462.87,44.62 L462.39,44.02 L461.92,43.42 L461.44,42.83 L460.97,42.25 L460.50,41.68 L460.04,41.13 L459.57,40.58 L459.11,40.04 L458.65,39.51 L458.20,38.99 L457.75,38.49 L457.30,37.99 L456.86,37.51 L456.42,37.04 L455.99,36.58 L455.56,36.13 L455.13,35.69 L454.71,35.27 L454.29,34.85 L453.88,34.46 L453.47,34.07 L453.07,33.69 M487.31,85.73 L486.90,85.18 L486.48,84.62 L486.05,84.06 L485.62,83.48 L485.18,82.90 L484.73,82.32 L484.27,81.73 L483.81,81.13 L483.34,80.53 L482.87,79.92 L482.39,79.30 L481.90,78.68 L481.41,78.06 L480.91,77.43 L480.41,76.80 L479.90,76.16 L479.38,75.52 L478.86,74.88 L478.34,74.23 L477.81,73.58 L477.28,72.93 L476.74,72.28 L476.20,71.62 L475.66,70.96 L475.11,70.30 L474.56,69.63 L474.00,68.97 L473.45,68.31 L472.89,67.64 L472.33,66.98 L471.76,66.31 L471.20,65.64 L470.63,64.98 L470.06,64.31 L469.49,63.65 L468.92,62.99 L468.35,62.33 L467.78,61.67 L467.21,61.01 L466.63,60.35 L466.06,59.70 L465.49,59.05 L464.92,58.41 L464.35,57.76 L463.78,57.12 L463.21,56.48 L462.64,55.85 L462.08,55.22 L461.52,54.60 L460.95,53.98 L460.40,53.37 L459.84,52.76 L459.29,52.15 L458.74,51.56 L458.19,50.97 L457.65,50.38 L457.11,49.80 L456.57,49.23 L456.04,48.66 L455.51,48.10 L454.99,47.55 L454.47,47.01 L453.96,46.47 L453.45,45.95 L452.95,45.43 L452.45,44.91 L451.96,44.41 L451.48,43.92 L451.00,43.43 L450.52,42.96 L450.06,42.49 L449.60,42.03 L449.14,41.58 L448.70,41.15 L448.26,40.72 L447.83,40.30 L447.40,39.90 L446.99,39.50 L446.58,39.11 L446.18,38.74 M487.31,85.73 L486.77,85.30 L486.23,84.86 L485.69,84.42 L485.13,83.97 L484.57,83.51 L484.00,83.04 L483.43,82.57 L482.85,82.10 L482.26,81.61 L481.67,81.12 L481.07,80.63 L480.46,80.13 L479.85,79.62 L479.23,79.11 L478.61,78.59 L477.99,78.07 L477.36,77.55 L476.73,77.02 L476.09,76.48 L475.45,75.94 L474.80,75.40 L474.16,74.86 L473.51,74.31 L472.86,73.76 L472.20,73.20 L471.54,72.65 L470.88,72.09 L470.22,71.53 L469.56,70.96 L468.90,70.40 L468.24,69.83 L467.57,69.27 L466.91,68.70 L466.25,68.13 L465.58,67.56 L464.92,66.99 L464.26,66.42 L463.60,65.85 L462.94,65.28 L462.28,64.71 L461.62,64.14 L460.97,63.57 L460.32,63.01 L459.67,62.44 L459.02,61.88 L458.38,61.32 L457.74,60.76 L457.10,60.20 L456.47,59.65 L455.84,59.09 L455.22,58.54 L454.60,58.00 L453.98,57.46 L453.37,56.92 L452.77,56.38 L452.17,55.85 L451.58,55.33 L450.99,54.80 L450.41,54.29 L449.84,53.77 L449.27,53.27 L448.72,52.76 L448.16,52.27 L447.62,51.78 L447.08,51.29 L446.55,50.81 L446.03,50.34 L445.52,49.87 L445.01,49.41 L444.52,48.96 L444.03,48.51 L443.55,48.08 L443.08,47.64 L442.62,47.22 L442.17,46.80 L441.73,46.40 L441.30,45.99 L440.88,45.60 L440.47,45.22 L440.07,44.84 M487.31,85.73 L486.67,85.44 L486.03,85.14 L485.39,84.83 L484.73,84.52 L484.07,84.20 L483.40,83.87 L482.72,83.53 L482.04,83.19 L481.36,82.84 L480.66,82.49 L479.96,82.13 L479.26,81.76 L478.55,81.39 L477.84,81.01 L477.12,80.62 L476.40,80.24 L475.68,79.84 L474.95,79.44 L474.22,79.03 L473.48,78.62 L472.75,78.21 L472.01,77.79 L471.27,77.36 L470.52,76.94 L469.78,76.50 L469.03,76.07 L468.29,75.63 L467.54,75.18 L466.79,74.74 L466.05,74.29 L465.30,73.83 L464.56,73.38 L463.81,72.92 L463.07,72.46 L462.33,72.00 L461.59,71.53 L460.85,71.06 L460.11,70.59 L459.38,70.12 L458.65,69.65 L457.92,69.18 L457.20,68.70 L456.48,68.23 L455.77,67.75 L455.06,67.28 L454.35,66.80 L453.65,66.32 L452.96,65.85 L452.27,65.37 L451.58,64.90 L450.90,64.42 L450.23,63.95 L449.57,63.48 L448.91,63.00 L448.26,62.53 L447.61,62.07 L446.98,61.60 L446.35,61.13 L445.73,60.67 L445.12,60.21 L444.52,59.75 L443.92,59.30 L443.34,58.85 L442.76,58.40 L442.19,57.95 L441.64,57.51 L441.09,57.07 L440.56,56.64 L440.03,56.20 L439.51,55.78 L439.01,55.35 L438.52,54.94 L438.03,54.52 L437.56,54.11 L437.10,53.71 L436.66,53.31 L436.22,52.92 L435.80,52.53 L435.39,52.15 L434.99,51.77 M487.31,85.73 L486.60,85.59 L485.88,85.44 L485.15,85.28 L484.42,85.11 L483.68,84.94 L482.94,84.76 L482.19,84.57 L481.43,84.38 L480.67,84.17 L479.90,83.97 L479.13,83.75 L478.35,83.53 L477.56,83.30 L476.78,83.06 L475.99,82.82 L475.19,82.57 L474.40,82.32 L473.59,82.06 L472.79,81.79 L471.99,81.52 L471.18,81.24 L470.37,80.96 L469.56,80.67 L468.75,80.37 L467.94,80.07 L467.12,79.76 L466.31,79.45 L465.50,79.14 L464.69,78.81 L463.88,78.49 L463.07,78.16 L462.26,77.82 L461.45,77.48 L460.65,77.14 L459.85,76.79 L459.05,76.44 L458.26,76.08 L457.46,75.72 L456.68,75.36 L455.89,74.99 L455.11,74.62 L454.34,74.25 L453.57,73.87 L452.80,73.49 L452.04,73.11 L451.29,72.73 L450.54,72.34 L449.80,71.95 L449.07,71.56 L448.34,71.17 L447.62,70.77 L446.91,70.38 L446.21,69.98 L445.51,69.58 L444.82,69.18 L444.15,68.78 L443.48,68.38 L442.82,67.97 L442.17,67.57 L441.52,67.17 L440.89,66.76 L440.27,66.36 L439.66,65.95 L439.06,65.55 L438.48,65.15 L437.90,64.74 L437.33,64.34 L436.78,63.94 L436.24,63.54 L435.71,63.14 L435.19,62.75 L434.69,62.35 L434.19,61.96 L433.72,61.56 L433.25,61.17 L432.80,60.79 L432.36,60.40 L431.93,60.02 L431.52,59.64 L431.12,59.26 M487.31,85.73 L486.55,85.74 L485.78,85.74 L485.01,85.74 L484.22,85.73 L483.44,85.71 L482.64,85.68 L481.84,85.65 L481.04,85.60 L480.22,85.55 L479.41,85.50 L478.58,85.43 L477.76,85.36 L476.93,85.28 L476.09,85.19 L475.25,85.10 L474.41,85.00 L473.57,84.89 L472.72,84.77 L471.87,84.65 L471.02,84.52 L470.17,84.38 L469.31,84.24 L468.46,84.09 L467.60,83.93 L466.74,83.77 L465.89,83.59 L465.03,83.42 L464.18,83.23 L463.33,83.04 L462.47,82.84 L461.62,82.64 L460.78,82.43 L459.93,82.21 L459.09,81.99 L458.25,81.76 L457.41,81.52 L456.58,81.28 L455.75,81.04 L454.93,80.78 L454.11,80.53 L453.29,80.26 L452.48,80.00 L451.68,79.72 L450.88,79.44 L450.09,79.16 L449.31,78.87 L448.53,78.58 L447.76,78.28 L447.00,77.97 L446.25,77.67 L445.50,77.35 L444.76,77.04 L444.03,76.72 L443.31,76.39 L442.60,76.07 L441.90,75.73 L441.21,75.40 L440.53,75.06 L439.86,74.72 L439.20,74.37 L438.55,74.02 L437.91,73.67 L437.29,73.32 L436.67,72.96 L436.07,72.60 L435.48,72.24 L434.90,71.88 L434.34,71.51 L433.79,71.14 L433.25,70.78 L432.72,70.40 L432.21,70.03 L431.71,69.66 L431.23,69.28 L430.75,68.91 L430.30,68.53 L429.86,68.15 L429.43,67.77 L429.02,67.39 L428.62,67.02 M487.31,85.73 L486.78,85.84 L486.24,85.95 L485.70,86.06 L485.16,86.16 L484.62,86.26 L484.07,86.35 L483.52,86.44 L482.97,86.53 L482.41,86.61 L481.85,86.69 L481.29,86.77 L480.72,86.84 L480.16,86.91 L479.59,86.98 L479.02,87.04 L478.44,87.10 L477.87,87.15 L477.29,87.20 L476.71,87.25 L476.13,87.29 L475.54,87.33 L474.96,87.37 L474.37,87.40 L473.78,87.43 L473.19,87.45 L472.60,87.47 L472.01,87.49 L471.42,87.50 L470.83,87.51 L470.23,87.51 L469.64,87.51 L469.04,87.51 L468.45,87.50 L467.85,87.49 L467.26,87.48 L466.66,87.46 L466.07,87.44 L465.47,87.41 L464.88,87.38 L464.28,87.35 L463.69,87.31 L463.09,87.27 L462.50,87.23 L461.91,87.18 L461.32,87.13 L460.73,87.07 L460.14,87.01 L459.55,86.95 L458.96,86.88 L458.38,86.81 L457.80,86.74 L457.21,86.66 L456.63,86.58 L456.06,86.49 L455.48,86.40 L454.91,86.31 L454.34,86.21 L453.77,86.11 L453.20,86.01 L452.63,85.90 L452.07,85.79 L451.51,85.68 L450.96,85.56 L450.40,85.44 L449.85,85.32 L449.31,85.19 L448.76,85.06 L448.22,84.92 L447.69,84.79 L447.15,84.64 L446.62,84.50 L446.10,84.35 L445.57,84.20 L445.06,84.05 L444.54,83.89 L444.03,83.73 L443.53,83.57 L443.02,83.40 L442.53,83.23 L442.03,83.06" fill="none" stroke="#ff0000" stroke-width="2.4" stroke-linecap="butt"/>
<path d="M487.31,85.73 L488.08,85.56 L488.84,85.38 L489.60,85.19 L490.34,85.00 L491.08,84.80 L491.81,84.59 L492.52,84.38 L493.23,84.16 L493.93,83.93 L494.61,83.69 L495.29,83.45 L495.95,83.20 L496.61,82.94 L497.25,82.68 L497.88,82.41 L498.49,82.14 L499.10,81.86 L499.69,81.57 L500.27,81.28 L500.84,80.98 L501.39,80.68 L501.93,80.37 L502.45,80.05 L502.97,79.73 L503.46,79.41 L503.95,79.08 L504.41,78.74 L504.87,78.40 L505.31,78.06 L505.73,77.71 L506.14,77.35 L506.53,77.00 L506.91,76.64 L507.27,76.27 L507.62,75.90 L507.95,75.53 L508.26,75.15 L508.56,74.77 L508.84,74.39 L509.10,74.00 L509.35,73.61 L509.58,73.22 L509.80,72.82 L509.99,72.43 L510.17,72.03 L510.34,71.63 L510.48,71.22 L510.61,70.82 L510.72,70.41 L510.82,70.00 L510.90,69.59 L510.96,69.18 L511.00,68.77 L511.03,68.36 L511.03,67.95 L511.03,67.53 L511.00,67.12 L510.96,66.70 L510.89,66.29 L510.82,65.87 L510.72,65.46 L510.61,65.05 L510.48,64.63 L510.33,64.22 L510.17,63.81 L509.99,63.40 M487.31,85.73 L488.07,85.41 L488.82,85.09 L489.57,84.75 L490.30,84.41 L491.03,84.07 L491.75,83.71 L492.46,83.35 L493.16,82.98 L493.85,82.61 L494.52,82.23 L495.19,81.84 L495.84,81.45 L496.49,81.05 L497.12,80.65 L497.74,80.24 L498.35,79.83 L498.95,79.41 L499.53,78.98 L500.10,78.55 L500.66,78.12 L501.20,77.68 L501.73,77.23 L502.25,76.79 L502.75,76.34 L503.24,75.88 L503.72,75.42 L504.18,74.96 L504.62,74.49 L505.06,74.02 L505.47,73.55 L505.87,73.08 L506.26,72.60 L506.63,72.12 L506.98,71.64 L507.32,71.16 L507.64,70.67 L507.95,70.19 L508.24,69.70 L508.52,69.21 L508.77,68.72 L509.02,68.23 L509.24,67.73 L509.45,67.24 L509.64,66.75 L509.81,66.26 L509.97,65.76 L510.11,65.27 L510.24,64.78 L510.34,64.29 L510.43,63.80 L510.51,63.31 L510.56,62.82 L510.60,62.34 L510.62,61.85 L510.63,61.37 L510.61,60.89 L510.58,60.41 L510.54,59.94 L510.47,59.46 L510.39,58.99 L510.29,58.53 L510.17,58.06 L510.04,57.60 L509.89,57.15 L509.72,56.69 L509.54,56.24 L509.34,55.80 L509.12,55.36 L508.89,54.92 L508.64,54.49 L508.37,54.06 L508.09,53.64 M487.31,85.73 L488.03,85.28 L488.75,84.82 L489.45,84.35 L490.15,83.87 L490.84,83.39 L491.52,82.90 L492.19,82.41 L492.85,81.91 L493.50,81.40 L494.14,80.89 L494.77,80.37 L495.39,79.85 L495.99,79.32 L496.59,78.78 L497.17,78.25 L497.74,77.70 L498.30,77.15 L498.85,76.60 L499.38,76.05 L499.91,75.49 L500.42,74.92 L500.91,74.36 L501.39,73.79 L501.86,73.22 L502.32,72.64 L502.76,72.07 L503.19,71.49 L503.60,70.91 L504.00,70.32 L504.38,69.74 L504.75,69.15 L505.10,68.57 L505.44,67.98 L505.77,67.39 L506.08,66.80 L506.37,66.22 L506.65,65.63 L506.91,65.04 L507.16,64.45 L507.39,63.87 L507.60,63.28 L507.80,62.70 L507.98,62.12 L508.15,61.54 L508.30,60.96 L508.43,60.38 L508.55,59.81 L508.65,59.24 L508.74,58.67 L508.81,58.11 L508.86,57.54 L508.89,56.99 L508.91,56.43 L508.92,55.88 L508.90,55.34 L508.87,54.80 L508.82,54.26 L508.76,53.73 L508.68,53.20 L508.58,52.68 L508.47,52.16 L508.34,51.65 L508.20,51.15 L508.03,50.65 L507.86,50.16 L507.66,49.67 L507.45,49.20 L507.23,48.72 L506.98,48.26 L506.73,47.80 L506.45,47.35 L506.16,46.91 L505.86,46.47 L505.54,46.05 L505.21,45.63 L504.86,45.22 L504.49,44.82 L504.11,44.42 L503.72,44.04 M487.31,85.73 L487.96,85.16 L488.61,84.58 L489.25,84.00 L489.88,83.40 L490.51,82.81 L491.12,82.20 L491.73,81.59 L492.32,80.97 L492.90,80.35 L493.48,79.72 L494.04,79.09 L494.59,78.45 L495.14,77.81 L495.67,77.16 L496.19,76.51 L496.70,75.85 L497.19,75.19 L497.68,74.53 L498.15,73.86 L498.61,73.20 L499.06,72.52 L499.49,71.85 L499.92,71.18 L500.32,70.50 L500.72,69.82 L501.10,69.14 L501.47,68.46 L501.83,67.78 L502.17,67.10 L502.50,66.41 L502.81,65.73 L503.11,65.05 L503.40,64.37 L503.67,63.69 L503.93,63.01 L504.17,62.33 L504.40,61.65 L504.61,60.98 L504.81,60.31 L505.00,59.64 L505.16,58.97 L505.32,58.31 L505.46,57.65 L505.58,56.99 L505.69,56.34 L505.78,55.69 L505.86,55.05 L505.92,54.41 L505.97,53.77 L506.00,53.14 L506.01,52.52 L506.02,51.90 L506.00,51.28 L505.97,50.68 L505.93,50.08 L505.86,49.48 L505.79,48.89 L505.70,48.31 L505.59,47.74 L505.47,47.17 L505.33,46.61 L505.18,46.06 L505.01,45.52 L504.83,44.99 L504.63,44.46 L504.42,43.95 L504.20,43.44 L503.95,42.94 L503.70,42.45 L503.43,41.97 L503.14,41.50 L502.85,41.04 L502.53,40.59 L502.21,40.15 L501.86,39.72 L501.51,39.30 L501.14,38.89 L500.76,38.50 L500.37,38.11 L499.96,37.74 M487.31,85.73 L487.87,85.06 L488.43,84.39 L488.98,83.71 L489.52,83.02 L490.05,82.33 L490.57,81.63 L491.08,80.92 L491.59,80.21 L492.08,79.49 L492.56,78.77 L493.04,78.04 L493.50,77.31 L493.95,76.57 L494.40,75.83 L494.83,75.09 L495.25,74.34 L495.66,73.59 L496.06,72.84 L496.44,72.08 L496.82,71.33 L497.18,70.57 L497.53,69.81 L497.87,69.05 L498.20,68.28 L498.51,67.52 L498.82,66.76 L499.11,65.99 L499.38,65.23 L499.65,64.47 L499.90,63.70 L500.14,62.94 L500.37,62.18 L500.58,61.42 L500.78,60.67 L500.96,59.92 L501.14,59.17 L501.29,58.42 L501.44,57.67 L501.57,56.93 L501.69,56.19 L501.80,55.46 L501.89,54.73 L501.96,54.01 L502.03,53.29 L502.08,52.58 L502.11,51.87 L502.13,51.17 L502.14,50.47 L502.14,49.78 L502.12,49.10 L502.08,48.42 L502.04,47.75 L501.98,47.09 L501.90,46.43 L501.81,45.79 L501.71,45.15 L501.60,44.52 L501.47,43.90 L501.32,43.29 L501.17,42.69 L501.00,42.09 L500.81,41.51 L500.62,40.94 L500.40,40.37 L500.18,39.82 L499.95,39.28 L499.70,38.75 L499.43,38.23 L499.16,37.72 L498.87,37.22 L498.57,36.73 L498.26,36.26 L497.93,35.79 L497.60,35.34 L497.25,34.91 L496.89,34.48 L496.51,34.07 L496.13,33.67 L495.73,33.28 L495.32,32.91 M487.31,85.73 L487.76,84.99 L488.20,84.25 L488.64,83.50 L489.06,82.74 L489.48,81.98 L489.89,81.20 L490.29,80.43 L490.68,79.65 L491.06,78.86 L491.43,78.07 L491.80,77.27 L492.15,76.47 L492.49,75.67 L492.82,74.86 L493.15,74.05 L493.46,73.23 L493.76,72.42 L494.05,71.60 L494.33,70.78 L494.60,69.96 L494.86,69.13 L495.11,68.31 L495.34,67.48 L495.57,66.66 L495.78,65.83 L495.99,65.01 L496.18,64.18 L496.36,63.36 L496.53,62.53 L496.68,61.71 L496.83,60.89 L496.96,60.08 L497.08,59.26 L497.19,58.45 L497.29,57.65 L497.38,56.84 L497.45,56.04 L497.51,55.24 L497.56,54.45 L497.60,53.67 L497.63,52.88 L497.64,52.11 L497.64,51.34 L497.63,50.57 L497.61,49.81 L497.57,49.06 L497.53,48.32 L497.47,47.58 L497.40,46.85 L497.31,46.13 L497.22,45.41 L497.11,44.71 L496.99,44.01 L496.86,43.32 L496.72,42.64 L496.57,41.97 L496.40,41.31 L496.23,40.66 L496.04,40.02 L495.84,39.39 L495.63,38.77 L495.40,38.17 L495.17,37.57 L494.93,36.99 L494.67,36.41 L494.40,35.85 L494.13,35.30 L493.84,34.77 L493.54,34.24 L493.23,33.73 L492.91,33.23 L492.58,32.75 L492.24,32.27 L491.89,31.82 L491.53,31.37 L491.16,30.94 L490.78,30.52 L490.39,30.12 L490.00,29.73 L489.59,29.36 M487.31,85.73 L487.63,84.95 L487.94,84.16 L488.24,83.37 L488.54,82.57 L488.82,81.76 L489.10,80.95 L489.37,80.13 L489.63,79.31 L489.88,78.48 L490.13,77.65 L490.36,76.81 L490.59,75.97 L490.80,75.12 L491.01,74.28 L491.20,73.42 L491.39,72.57 L491.57,71.71 L491.74,70.86 L491.89,70.00 L492.04,69.13 L492.18,68.27 L492.31,67.41 L492.43,66.54 L492.53,65.68 L492.63,64.82 L492.72,63.96 L492.80,63.09 L492.87,62.24 L492.92,61.38 L492.97,60.52 L493.01,59.67 L493.03,58.82 L493.05,57.97 L493.06,57.12 L493.05,56.28 L493.04,55.45 L493.01,54.62 L492.98,53.79 L492.93,52.97 L492.88,52.15 L492.81,51.34 L492.74,50.53 L492.65,49.73 L492.56,48.94 L492.45,48.16 L492.34,47.38 L492.21,46.61 L492.07,45.85 L491.93,45.09 L491.77,44.35 L491.61,43.61 L491.43,42.88 L491.25,42.16 L491.05,41.45 L490.85,40.75 L490.64,40.07 L490.41,39.39 L490.18,38.72 L489.94,38.06 L489.69,37.42 L489.43,36.78 L489.17,36.16 L488.89,35.55 L488.60,34.95 L488.31,34.37 L488.01,33.80 L487.70,33.24 L487.38,32.69 L487.05,32.16 L486.72,31.64 L486.38,31.13 L486.03,30.64 L485.67,30.16 L485.31,29.70 L484.93,29.25 L484.56,28.82 L484.17,28.40 L483.78,28.00 L483.38,27.61 L482.97,27.23 M487.31,85.73 L487.48,84.94 L487.65,84.14 L487.81,83.33 L487.96,82.52 L488.11,81.70 L488.24,80.88 L488.37,80.05 L488.49,79.21 L488.60,78.37 L488.70,77.53 L488.79,76.68 L488.88,75.82 L488.95,74.97 L489.02,74.10 L489.08,73.24 L489.13,72.38 L489.17,71.51 L489.20,70.64 L489.22,69.77 L489.24,68.89 L489.25,68.02 L489.24,67.14 L489.23,66.27 L489.21,65.39 L489.18,64.52 L489.14,63.65 L489.10,62.78 L489.04,61.91 L488.98,61.04 L488.91,60.17 L488.82,59.31 L488.74,58.45 L488.64,57.59 L488.53,56.73 L488.41,55.88 L488.29,55.04 L488.16,54.20 L488.02,53.36 L487.87,52.53 L487.71,51.70 L487.55,50.88 L487.37,50.07 L487.19,49.26 L487.00,48.46 L486.81,47.67 L486.60,46.88 L486.39,46.11 L486.17,45.34 L485.94,44.57 L485.70,43.82 L485.46,43.08 L485.21,42.34 L484.95,41.62 L484.69,40.90 L484.42,40.20 L484.14,39.51 L483.86,38.82 L483.56,38.15 L483.27,37.49 L482.96,36.84 L482.65,36.20 L482.33,35.57 L482.01,34.96 L481.68,34.36 L481.35,33.77 L481.01,33.19 L480.66,32.63 L480.31,32.08 L479.95,31.55 L479.59,31.02 L479.23,30.52 L478.86,30.02 L478.48,29.54 L478.10,29.08 L477.71,28.63 L477.32,28.20 L476.93,27.78 L476.53,27.37 L476.13,26.98 L475.73,26.61 M487.31,85.73 L487.33,84.96 L487.35,84.18 L487.36,83.39 L487.36,82.59 L487.35,81.79 L487.34,80.98 L487.32,80.17 L487.29,79.35 L487.25,78.53 L487.20,77.70 L487.15,76.87 L487.08,76.04 L487.01,75.20 L486.94,74.35 L486.85,73.51 L486.76,72.66 L486.65,71.81 L486.54,70.95 L486.43,70.10 L486.30,69.24 L486.17,68.38 L486.03,67.53 L485.88,66.67 L485.73,65.81 L485.57,64.95 L485.40,64.09 L485.22,63.24 L485.03,62.38 L484.84,61.53 L484.65,60.68 L484.44,59.83 L484.23,58.98 L484.01,58.14 L483.78,57.30 L483.55,56.46 L483.31,55.63 L483.07,54.80 L482.82,53.98 L482.56,53.16 L482.30,52.35 L482.03,51.54 L481.75,50.74 L481.47,49.94 L481.18,49.15 L480.89,48.37 L480.59,47.60 L480.29,46.83 L479.98,46.07 L479.66,45.32 L479.34,44.58 L479.02,43.84 L478.69,43.12 L478.36,42.40 L478.02,41.70 L477.68,41.00 L477.33,40.31 L476.98,39.64 L476.63,38.97 L476.27,38.32 L475.91,37.68 L475.54,37.04 L475.18,36.42 L474.80,35.82 L474.43,35.22 L474.05,34.64 L473.67,34.06 L473.29,33.51 L472.90,32.96 L472.51,32.43 L472.12,31.91 L471.73,31.41 L471.34,30.92 L470.94,30.44 L470.54,29.98 L470.15,29.53 L469.75,29.09 L469.34,28.68 L468.94,28.27 L468.54,27.88 L468.14,27.51 M487.31,85.73 L487.18,85.00 L487.05,84.27 L486.90,83.53 L486.75,82.78 L486.60,82.03 L486.43,81.27 L486.26,80.50 L486.08,79.73 L485.89,78.96 L485.69,78.18 L485.49,77.39 L485.28,76.60 L485.06,75.81 L484.84,75.01 L484.60,74.21 L484.37,73.40 L484.12,72.60 L483.87,71.79 L483.61,70.98 L483.34,70.17 L483.07,69.35 L482.79,68.54 L482.51,67.72 L482.22,66.91 L481.92,66.09 L481.62,65.27 L481.31,64.46 L481.00,63.64 L480.68,62.83 L480.35,62.02 L480.02,61.21 L479.69,60.40 L479.35,59.59 L479.00,58.79 L478.65,57.99 L478.30,57.20 L477.94,56.40 L477.58,55.62 L477.21,54.83 L476.84,54.05 L476.46,53.28 L476.08,52.51 L475.70,51.74 L475.32,50.99 L474.93,50.24 L474.53,49.49 L474.14,48.75 L473.74,48.02 L473.34,47.30 L472.94,46.58 L472.53,45.87 L472.12,45.17 L471.71,44.48 L471.30,43.80 L470.89,43.12 L470.47,42.46 L470.06,41.80 L469.64,41.16 L469.22,40.52 L468.80,39.90 L468.38,39.28 L467.96,38.68 L467.54,38.09 L467.12,37.50 L466.70,36.93 L466.28,36.38 L465.86,35.83 L465.44,35.30 L465.02,34.77 L464.60,34.26 L464.18,33.77 L463.76,33.28 L463.35,32.81 L462.93,32.36 L462.52,31.91 L462.11,31.48 L461.70,31.07 L461.29,30.66 L460.89,30.28 L460.49,29.90 M487.31,85.73 L487.03,85.08 L486.75,84.42 L486.46,83.76 L486.16,83.08 L485.86,82.40 L485.55,81.72 L485.23,81.03 L484.90,80.33 L484.57,79.63 L484.23,78.92 L483.88,78.21 L483.53,77.49 L483.17,76.77 L482.80,76.05 L482.43,75.32 L482.05,74.59 L481.66,73.85 L481.27,73.12 L480.88,72.37 L480.48,71.63 L480.07,70.89 L479.66,70.14 L479.24,69.39 L478.82,68.64 L478.39,67.89 L477.96,67.14 L477.52,66.39 L477.08,65.64 L476.64,64.89 L476.19,64.15 L475.74,63.40 L475.29,62.65 L474.83,61.90 L474.37,61.16 L473.91,60.42 L473.44,59.68 L472.97,58.95 L472.50,58.21 L472.03,57.48 L471.55,56.76 L471.07,56.03 L470.59,55.32 L470.11,54.60 L469.63,53.89 L469.15,53.19 L468.67,52.49 L468.18,51.80 L467.70,51.11 L467.21,50.43 L466.73,49.76 L466.24,49.09 L465.76,48.43 L465.27,47.77 L464.79,47.13 L464.31,46.49 L463.83,45.86 L463.35,45.23 L462.87,44.62 L462.39,44.02 L461.92,43.42 L461.44,42.83 L460.97,42.25 L460.50,41.68 L460.04,41.13 L459.57,40.58 L459.11,40.04 L458.65,39.51 L458.20,38.99 L457.75,38.49 L457.30,37.99 L456.86,37.51 L456.42,37.04 L455.99,36.58 L455.56,36.13 L455.13,35.69 L454.71,35.27 L454.29,34.85 L453.88,34.46 L453.47,34.07 L453.07,33.69 M487.31,85.73 L486.90,85.18 L486.48,84.62 L486.05,84.06 L485.62,83.48 L485.18,82.90 L484.73,82.32 L484.27,81.73 L483.81,81.13 L483.34,80.53 L482.87,79.92 L482.39,79.30 L481.90,78.68 L481.41,78.06 L480.91,77.43 L480.41,76.80 L479.90,76.16 L479.38,75.52 L478.86,74.88 L478.34,74.23 L477.81,73.58 L477.28,72.93 L476.74,72.28 L476.20,71.62 L475.66,70.96 L475.11,70.30 L474.56,69.63 L474.00,68.97 L473.45,68.31 L472.89,67.64 L472.33,66.98 L471.76,66.31 L471.20,65.64 L470.63,64.98 L470.06,64.31 L469.49,63.65 L468.92,62.99 L468.35,62.33 L467.78,61.67 L467.21,61.01 L466.63,60.35 L466.06,59.70 L465.49,59.05 L464.92,58.41 L464.35,57.76 L463.78,57.12 L463.21,56.48 L462.64,55.85 L462.08,55.22 L461.52,54.60 L460.95,53.98 L460.40,53.37 L459.84,52.76 L459.29,52.15 L458.74,51.56 L458.19,50.97 L457.65,50.38 L457.11,49.80 L456.57,49.23 L456.04,48.66 L455.51,48.10 L454.99,47.55 L454.47,47.01 L453.96,46.47 L453.45,45.95 L452.95,45.43 L452.45,44.91 L451.96,44.41 L451.48,43.92 L451.00,43.43 L450.52,42.96 L450.06,42.49 L449.60,42.03 L449.14,41.58 L448.70,41.15 L448.26,40.72 L447.83,40.30 L447.40,39.90 L446.99,39.50 L446.58,39.11 L446.18,38.74 M487.31,85.73 L486.77,85.30 L486.23,84.86 L485.69,84.42 L485.13,83.97 L484.57,83.51 L484.00,83.04 L483.43,82.57 L482.85,82.10 L482.26,81.61 L481.67,81.12 L481.07,80.63 L480.46,80.13 L479.85,79.62 L479.23,79.11 L478.61,78.59 L477.99,78.07 L477.36,77.55 L476.73,77.02 L476.09,76.48 L475.45,75.94 L474.80,75.40 L474.16,74.86 L473.51,74.31 L472.86,73.76 L472.20,73.20 L471.54,72.65 L470.88,72.09 L470.22,71.53 L469.56,70.96 L468.90,70.40 L468.24,69.83 L467.57,69.27 L466.91,68.70 L466.25,68.13 L465.58,67.56 L464.92,66.99 L464.26,66.42 L463.60,65.85 L462.94,65.28 L462.28,64.71 L461.62,64.14 L460.97,63.57 L460.32,63.01 L459.67,62.44 L459.02,61.88 L458.38,61.32 L457.74,60.76 L457.10,60.20 L456.47,59.65 L455.84,59.09 L455.22,58.54 L454.60,58.00 L453.98,57.46 L453.37,56.92 L452.77,56.38 L452.17,55.85 L451.58,55.33 L450.99,54.80 L450.41,54.29 L449.84,53.77 L449.27,53.27 L448.72,52.76 L448.16,52.27 L447.62,51.78 L447.08,51.29 L446.55,50.81 L446.03,50.34 L445.52,49.87 L445.01,49.41 L444.52,48.96 L444.03,48.51 L443.55,48.08 L443.08,47.64 L442.62,47.22 L442.17,46.80 L441.73,46.40 L441.30,45.99 L440.88,45.60 L440.47,45.22 L440.07,44.84 M487.31,85.73 L486.67,85.44 L486.03,85.14 L485.39,84.83 L484.73,84.52 L484.07,84.20 L483.40,83.87 L482.72,83.53 L482.04,83.19 L481.36,82.84 L480.66,82.49 L479.96,82.13 L479.26,81.76 L478.55,81.39 L477.84,81.01 L477.12,80.62 L476.40,80.24 L475.68,79.84 L474.95,79.44 L474.22,79.03 L473.48,78.62 L472.75,78.21 L472.01,77.79 L471.27,77.36 L470.52,76.94 L469.78,76.50 L469.03,76.07 L468.29,75.63 L467.54,75.18 L466.79,74.74 L466.05,74.29 L465.30,73.83 L464.56,73.38 L463.81,72.92 L463.07,72.46 L462.33,72.00 L461.59,71.53 L460.85,71.06 L460.11,70.59 L459.38,70.12 L458.65,69.65 L457.92,69.18 L457.20,68.70 L456.48,68.23 L455.77,67.75 L455.06,67.28 L454.35,66.80 L453.65,66.32 L452.96,65.85 L452.27,65.37 L451.58,64.90 L450.90,64.42 L450.23,63.95 L449.57,63.48 L448.91,63.00 L448.26,62.53 L447.61,62.07 L446.98,61.60 L446.35,61.13 L445.73,60.67 L445.12,60.21 L444.52,59.75 L443.92,59.30 L443.34,58.85 L442.76,58.40 L442.19,57.95 L441.64,57.51 L441.09,57.07 L440.56,56.64 L440.03,56.20 L439.51,55.78 L439.01,55.35 L438.52,54.94 L438.03,54.52 L437.56,54.11 L437.10,53.71 L436.66,53.31 L436.22,52.92 L435.80,52.53 L435.39,52.15 L434.99,51.77 M487.31,85.73 L486.60,85.59 L485.88,85.44 L485.15,85.28 L484.42,85.11 L483.68,84.94 L482.94,84.76 L482.19,84.57 L481.43,84.38 L480.67,84.17 L479.90,83.97 L479.13,83.75 L478.35,83.53 L477.56,83.30 L476.78,83.06 L475.99,82.82 L475.19,82.57 L474.40,82.32 L473.59,82.06 L472.79,81.79 L471.99,81.52 L471.18,81.24 L470.37,80.96 L469.56,80.67 L468.75,80.37 L467.94,80.07 L467.12,79.76 L466.31,79.45 L465.50,79.14 L464.69,78.81 L463.88,78.49 L463.07,78.16 L462.26,77.82 L461.45,77.48 L460.65,77.14 L459.85,76.79 L459.05,76.44 L458.26,76.08 L457.46,75.72 L456.68,75.36 L455.89,74.99 L455.11,74.62 L454.34,74.25 L453.57,73.87 L452.80,73.49 L452.04,73.11 L451.29,72.73 L450.54,72.34 L449.80,71.95 L449.07,71.56 L448.34,71.17 L447.62,70.77 L446.91,70.38 L446.21,69.98 L445.51,69.58 L444.82,69.18 L444.15,68.78 L443.48,68.38 L442.82,67.97 L442.17,67.57 L441.52,67.17 L440.89,66.76 L440.27,66.36 L439.66,65.95 L439.06,65.55 L438.48,65.15 L437.90,64.74 L437.33,64.34 L436.78,63.94 L436.24,63.54 L435.71,63.14 L435.19,62.75 L434.69,62.35 L434.19,61.96 L433.72,61.56 L433.25,61.17 L432.80,60.79 L432.36,60.40 L431.93,60.02 L431.52,59.64 L431.12,59.26 M487.31,85.73 L486.55,85.74 L485.78,85.74 L485.01,85.74 L484.22,85.73 L483.44,85.71 L482.64,85.68 L481.84,85.65 L481.04,85.60 L480.22,85.55 L479.41,85.50 L478.58,85.43 L477.76,85.36 L476.93,85.28 L476.09,85.19 L475.25,85.10 L474.41,85.00 L473.57,84.89 L472.72,84.77 L471.87,84.65 L471.02,84.52 L470.17,84.38 L469.31,84.24 L468.46,84.09 L467.60,83.93 L466.74,83.77 L465.89,83.59 L465.03,83.42 L464.18,83.23 L463.33,83.04 L462.47,82.84 L461.62,82.64 L460.78,82.43 L459.93,82.21 L459.09,81.99 L458.25,81.76 L457.41,81.52 L456.58,81.28 L455.75,81.04 L454.93,80.78 L454.11,80.53 L453.29,80.26 L452.48,80.00 L451.68,79.72 L450.88,79.44 L450.09,79.16 L449.31,78.87 L448.53,78.58 L447.76,78.28 L447.00,77.97 L446.25,77.67 L445.50,77.35 L444.76,77.04 L444.03,76.72 L443.31,76.39 L442.60,76.07 L441.90,75.73 L441.21,75.40 L440.53,75.06 L439.86,74.72 L439.20,74.37 L438.55,74.02 L437.91,73.67 L437.29,73.32 L436.67,72.96 L436.07,72.60 L435.48,72.24 L434.90,71.88 L434.34,71.51 L433.79,71.14 L433.25,70.78 L432.72,70.40 L432.21,70.03 L431.71,69.66 L431.23,69.28 L430.75,68.91 L430.30,68.53 L429.86,68.15 L429.43,67.77 L429.02,67.39 L428.62,67.02 M487.31,85.73 L486.78,85.84 L486.24,85.95 L485.70,86.06 L485.16,86.16 L484.62,86.26 L484.07,86.35 L483.52,86.44 L482.97,86.53 L482.41,86.61 L481.85,86.69 L481.29,86.77 L480.72,86.84 L480.16,86.91 L479.59,86.98 L479.02,87.04 L478.44,87.10 L477.87,87.15 L477.29,87.20 L476.71,87.25 L476.13,87.29 L475.54,87.33 L474.96,87.37 L474.37,87.40 L473.78,87.43 L473.19,87.45 L472.60,87.47 L472.01,87.49 L471.42,87.50 L470.83,87.51 L470.23,87.51 L469.64,87.51 L469.04,87.51 L468.45,87.50 L467.85,87.49 L467.26,87.48 L466.66,87.46 L466.07,87.44 L465.47,87.41 L464.88,87.38 L464.28,87.35 L463.69,87.31 L463.09,87.27 L462.50,87.23 L461.91,87.18 L461.32,87.13 L460.73,87.07 L460.14,87.01 L459.55,86.95 L458.96,86.88 L458.38,86.81 L457.80,86.74 L457.21,86.66 L456.63,86.58 L456.06,86.49 L455.48,86.40 L454.91,86.31 L454.34,86.21 L453.77,86.11 L453.20,86.01 L452.63,85.90 L452.07,85.79 L451.51,85.68 L450.96,85.56 L450.40,85.44 L449.85,85.32 L449.31,85.19 L448.76,85.06 L448.22,84.92 L447.69,84.79 L447.15,84.64 L446.62,84.50 L446.10,84.35 L445.57,84.20 L445.06,84.05 L444.54,83.89 L444.03,83.73 L443.53,83.57 L443.02,83.40 L442.53,83.23 L442.03,83.06" fill="none" stroke="#ffc0c0" stroke-width="0.6" stroke-dasharray="0.9 0.6"/>
<path d="M445.71,104.29 L444.95,103.98 L444.19,103.66 L443.45,103.31 L442.72,102.94 L442.00,102.55 L441.30,102.14 L440.62,101.71 L439.94,101.26 L439.29,100.79 L438.64,100.31 L438.02,99.80 L437.41,99.28 L436.81,98.73 L436.24,98.17 L435.68,97.60 L435.13,97.00 L434.61,96.39 L434.10,95.76 L433.61,95.12 L433.14,94.46 L432.69,93.78 L432.26,93.09 L431.85,92.39 L431.45,91.67 L431.08,90.94 L430.72,90.19 L430.39,89.43 L430.08,88.66 L429.78,87.87 L429.51,87.08 L429.26,86.27 L429.03,85.45 L428.82,84.62 L428.63,83.78 L428.46,82.93 L428.32,82.07 L428.19,81.21 L428.09,80.33 L428.01,79.45 L427.95,78.56 L427.91,77.67 L427.90,76.77 L427.90,75.86 L427.93,74.95 L427.98,74.03 L428.05,73.11 L428.14,72.18 L428.26,71.25 L428.39,70.32 L428.55,69.39 L428.73,68.46 L428.93,67.52 L429.15,66.59 L429.39,65.65 L429.65,64.72 L429.94,63.78 L430.24,62.85 L430.57,61.92 L430.91,60.99 L431.27,60.07 L431.66,59.15 L432.06,58.23 L432.49,57.32 L432.93,56.41 L433.39,55.51 L433.87,54.62 L434.37,53.73 L434.89,52.85 L435.42,51.97 L435.97,51.11 L436.54,50.25 L437.13,49.40 L437.73,48.56 L438.35,47.74 L438.98,46.92 L439.63,46.11 L440.30,45.32 L440.98,44.53 L441.68,43.76 L442.38,43.01 L443.11,42.26 L443.84,41.53 L444.59,40.81 L445.35,40.11 L446.13,39.42 L446.91,38.74 L447.71,38.09 L448.51,37.44 L449.33,36.82 L450.16,36.21 L450.99,35.62 L451.84,35.04 L452.69,34.48 L453.55,33.94 L454.42,33.42 L455.30,32.92 L456.18,32.43 L457.07,31.97 L457.96,31.52 L458.86,31.09 L459.76,30.69 L460.67,30.30 L461.58,29.93 L462.50,29.59 L463.41,29.26 L464.33,28.96 L465.25,28.67 L466.17,28.41 L467.09,28.17 L468.01,27.94 L468.93,27.75 L469.85,27.57" fill="none" stroke="#2a3cf0" stroke-width="1.2"/>
<path d="M472.32,109.57 L472.77,109.68 L473.22,109.77 L473.67,109.83 L474.12,109.87 L474.56,109.88 L475.00,109.88 L475.43,109.84 L475.86,109.79 L476.29,109.71 L476.71,109.61 L477.12,109.48 L477.53,109.34 L477.93,109.16 L478.33,108.97 L478.72,108.75 L479.10,108.51 L479.48,108.25 L479.85,107.96 L480.21,107.66 L480.57,107.33 L480.92,106.97 L481.26,106.60 L481.60,106.21 L481.92,105.79 L482.24,105.35 L482.55,104.89 L482.85,104.41 L483.15,103.91 L483.43,103.39 L483.71,102.85 L483.97,102.29 L484.23,101.71 L484.48,101.11 L484.72,100.50 L484.94,99.86 L485.16,99.21 L485.37,98.54 L485.57,97.85 L485.76,97.15 L485.94,96.42 L486.11,95.69 L486.27,94.93 L486.41,94.16 L486.55,93.38 L486.68,92.58 L486.80,91.77 L486.90,90.95 L487.00,90.11 L487.08,89.26 L487.15,88.39 L487.21,87.52 L487.27,86.63 L487.31,85.73" fill="none" stroke="#2a3cf0" stroke-width="1.3"/>
<path d="M487.31,85.73 L487.34,84.78 L487.35,83.81 L487.36,82.84 L487.35,81.85 L487.34,80.86 L487.31,79.86 L487.26,78.85 L487.21,77.83 L487.14,76.81 L487.06,75.78 L486.97,74.74 L486.87,73.70 L486.76,72.66 L486.63,71.61 L486.49,70.56 L486.34,69.50 L486.18,68.45 L486.01,67.39 L485.82,66.34 L485.63,65.28 L485.42,64.22 L485.21,63.17 L484.98,62.12 L484.74,61.07 L484.49,60.02 L484.23,58.98 L483.96,57.94 L483.68,56.91 L483.39,55.88 L483.09,54.86 L482.78,53.85 L482.46,52.85 L482.13,51.85 L481.79,50.86 L481.45,49.88 L481.09,48.91 L480.73,47.95 L480.36,47.01 L479.98,46.07 L479.59,45.15 L479.20,44.24 L478.79,43.34 L478.38,42.46 L477.97,41.59 L477.55,40.73 L477.12,39.90 L476.68,39.07 L476.24,38.27 L475.80,37.48 L475.35,36.71 L474.89,35.95 L474.43,35.22 L473.96,34.50 L473.49,33.81 L473.02,33.13 L472.54,32.47 L472.06,31.83 L471.58,31.22 L471.09,30.62 L470.60,30.05 L470.11,29.49 L469.62,28.96 L469.13,28.46 L468.63,27.97 L468.14,27.51 L467.64,27.07 L467.14,26.66 L466.64,26.27 L466.15,25.90 L465.65,25.56 L465.15,25.24 L464.66,24.95 L464.17,24.68 L463.67,24.44 L463.18,24.22 L462.70,24.03 L462.21,23.86 L461.73,23.72 L461.25,23.60 L460.78,23.51 L460.30,23.45 L459.84,23.41 L459.37,23.40 L458.91,23.41 L458.46,23.45 L458.01,23.51 L457.57,23.60 L457.13,23.72 L456.70,23.86 L456.27,24.03 L455.85,24.22 L455.44,24.44 L455.03,24.68 L454.63,24.95 L454.24,25.24 L453.86,25.56" fill="none" stroke="#3030e8" stroke-width="1.2" stroke-opacity="0.6"/>
<circle cx="487.31" cy="85.73" r="1.3" fill="#fff"/>
<line x1="468.49" y1="27.84" x2="469.45" y2="15.28" stroke="#1030f0" stroke-width="1.1"/><polygon points="469.90,9.30 471.64,15.45 467.25,15.12" fill="#1030f0"/>
<line x1="427.93" y1="75.08" x2="415.92" y2="78.89" stroke="#1030f0" stroke-width="1.1"/><polygon points="410.20,80.70 415.25,76.79 416.58,80.98" fill="#1030f0"/>
<line x1="487.31" y1="85.73" x2="494.82" y2="93.49" stroke="#1030f0" stroke-width="1.1"/><polygon points="499.00,97.80 493.24,95.02 496.40,91.96" fill="#1030f0"/>
<text x="459.6" y="13.4" font-size="9.5" font-style="italic" fill="#222" stroke="#222" stroke-width="0.2" font-family='"Liberation Serif", serif'>S<tspan font-size="5" font-style="normal" dy="0.6">3</tspan></text>
<text x="462.4" y="6.2" font-size="5" fill="#555" font-family='"Liberation Serif", serif'>≈</text>
<text x="407.8" y="90.6" font-size="9.5" fill="#222" stroke="#222" stroke-width="0.2" font-family='"Liberation Serif", serif'>−<tspan font-style="italic">S</tspan><tspan font-size="5" dy="0.6">1</tspan></text>
<text x="414.6" y="83.6" font-size="5" fill="#555" font-family='"Liberation Serif", serif'>≈</text>
<text x="495.2" y="108.0" font-size="9.5" font-style="italic" fill="#222" stroke="#222" stroke-width="0.2" font-family='"Liberation Serif", serif'>S<tspan font-size="5" font-style="normal" dy="0.6">2</tspan></text>
<text x="497.8" y="100.8" font-size="5" fill="#555" font-family='"Liberation Serif", serif'>≈</text>
</g>
<text x="51.80" y="260.80" font-size="12" text-anchor="middle" font-style="italic" fill="#1a1a1a" stroke="#1a1a1a" stroke-width="0.22">θ</text>
<text x="58.60" y="260.80" font-size="12" text-anchor="middle" fill="#1a1a1a" stroke="#1a1a1a" stroke-width="0.22">=</text>
<text x="65.50" y="260.80" font-size="12" text-anchor="middle" fill="#1a1a1a" stroke="#1a1a1a" stroke-width="0.22">0</text>
<text x="156.30" y="260.80" font-size="12" text-anchor="middle" fill="#1a1a1a" stroke="#1a1a1a" stroke-width="0.22">π</text>
<text x="162.80" y="260.80" font-size="12" text-anchor="middle" fill="#1a1a1a" stroke="#1a1a1a" stroke-width="0.22">/</text>
<text x="171.20" y="260.80" font-size="12" text-anchor="middle" fill="#1a1a1a" stroke="#1a1a1a" stroke-width="0.22">4</text>
<text x="259.00" y="260.80" font-size="12" text-anchor="middle" fill="#1a1a1a" stroke="#1a1a1a" stroke-width="0.22">π</text>
<text x="266.10" y="260.80" font-size="12" text-anchor="middle" fill="#1a1a1a" stroke="#1a1a1a" stroke-width="0.22">/</text>
<text x="274.40" y="260.80" font-size="12" text-anchor="middle" fill="#1a1a1a" stroke="#1a1a1a" stroke-width="0.22">3</text>
<text x="362.40" y="260.80" font-size="12" text-anchor="middle" fill="#1a1a1a" stroke="#1a1a1a" stroke-width="0.22">π</text>
<text x="369.40" y="260.80" font-size="12" text-anchor="middle" fill="#1a1a1a" stroke="#1a1a1a" stroke-width="0.22">/</text>
<text x="377.50" y="260.80" font-size="12" text-anchor="middle" fill="#1a1a1a" stroke="#1a1a1a" stroke-width="0.22">2</text>
<text x="473.10" y="260.80" font-size="12" text-anchor="middle" fill="#1a1a1a" stroke="#1a1a1a" stroke-width="0.22">π</text>
<text x="14.20" y="244.60" font-size="13" text-anchor="middle" font-style="italic" fill="#e8e8e8">e</text>
<text x="531.50" y="171.50" font-size="12.5" text-anchor="start" font-style="italic" fill="#222" stroke="#222" stroke-width="0.22">I</text>
<text x="537.50" y="176.50" font-size="8" text-anchor="start" fill="#222" stroke="#222" stroke-width="0.22">1</text>
<text x="537.00" y="229.50" font-size="8" text-anchor="start" fill="#222" stroke="#222" stroke-width="0.22">0</text>
</svg>
<script>
(function(){
var cv=document.getElementById('cv');
var ctx=cv.getContext('2d');
var W=550,H=268;
var img=ctx.createImageData(W,H);
var D=img.data;
for(var i=0;i<D.length;i+=4){D[i]=255;D[i+1]=255;D[i+2]=255;D[i+3]=255;}
function clamp(v){return v<0?0:(v>1?1:v);}
function hot(v){
  v=clamp(v);
  return [clamp(v/0.365), clamp((v-0.365)/0.38), clamp((v-0.745)/0.255)];
}
function g(x,s){return Math.exp(-x*x/(s*s));}
function c2(x){var c=Math.cos(x);return c*c;}
function bj1(x){
 var ax=Math.abs(x),ans,y,a1,a2;
 if(ax<8.0){
  y=x*x;
  a1=x*(72362614232.0+y*(-7895059235.0+y*(242396853.1+y*(-2972611.439+y*(15704.48260+y*(-30.16036606))))));
  a2=144725228442.0+y*(2300535178.0+y*(18583304.74+y*(99447.43394+y*(376.9991397+y*1.0))));
  ans=a1/a2;
 }else{
  var z=8.0/ax; y=z*z; var xx=ax-2.356194491;
  a1=1.0+y*(0.183105e-2+y*(-0.3516396496e-4+y*(0.2457520174e-5+y*(-0.240337019e-6))));
  a2=0.04687499995+y*(-0.2002690873e-3+y*(0.8449199096e-5+y*(-0.88228987e-6+y*0.105787412e-6)));
  ans=Math.sqrt(0.636619772/ax)*(Math.cos(xx)*a1-z*Math.sin(xx)*a2);
  if(x<0) ans=-ans;
 }
 return ans;
}
var PI=Math.PI, S2=Math.SQRT2;
function insideEll(rho){return 1/(1+Math.exp((rho-1.0)/0.012));}
var K=0.86;
function latticeModel(o){
  return function(x,y){
    var r=Math.sqrt(x*x+y*y);
    var rho=Math.sqrt((x/o.rx)*(x/o.rx)+(y/o.ry)*(y/o.ry));
    var u,w;
    if(o.rot){u=(x+y)/S2; w=(x-y)/S2;} else {u=x; w=y;}
    var re=o.ex?Math.sqrt(x*x*o.ex*o.ex+y*y):r;
    var E=o.a*bj1(K*re)+(Math.cos(o.q*u)+Math.cos(o.q*w))/2;
    var I=E*E;
    var v=o.sc*Math.pow(I,o.gam);
    if(o.clip) v=o.clip*Math.tanh(v/o.clip);
    v*=insideEll(rho);
    v=Math.max(v, (o.core||0)*(0.95*g(r-1.9,1.0)+0.25*g(r,0.7)));
    if(rho>1){
      var ax=Math.abs(x), ay=Math.abs(y);
      if(o.crescent){
        var cp=Math.abs(x)/(r+1e-9), spn=Math.abs(y)/(r+1e-9);
        v+=o.lx*(Math.exp(-Math.pow((rho-o.lr)/o.lwid,2))+0.2*Math.exp(-Math.pow((rho-o.lr-0.14)/o.lwid,2)))*Math.pow(cp,o.ln);
        v+=o.ly*Math.exp(-Math.pow((rho-o.tr)/o.twid,2))*Math.pow(spn,o.tn)*(o.tb?(0.35+0.65*c2(PI*x/o.tb)):1);
        v+=o.lw*Math.exp(-Math.pow((rho-1)/0.1,2));
      } else {
      v+=o.lx*g(ax-(o.rx+o.dx),o.sx)*g(y,o.wy)+o.ly*g(ay-(o.ry+o.dy),o.sy)*g(x,o.wx)*(o.tb?(0.35+0.65*c2(PI*x/o.tb)):1)+o.lw*Math.exp(-Math.pow((rho-1)/0.1,2));
      }
    }
    if(o.rim){ var spr=Math.abs(y)/(r+1e-9); v+=o.rim*Math.exp(-Math.pow((rho-0.955)/0.03,2))*Math.pow(spr,4); }
    if(o.spots){
      var ax2=Math.abs(x), ay2=Math.abs(y);
      v+=o.spots*(g(ax2-o.rx-1.8,2.0)*g(y,3.0)+0.8*g(ay2-o.ry+0.4,1.8)*g(x,3.0));
    }
    return v;
  };
}
var P=[
 {cx:59.5, cy:196.4, rx:37.1, ry:37.2, f:function(x,y){
    var r=Math.sqrt(x*x+y*y);
    var rho=r/37.2;
    var core=1.0*g(r-1.9,1.05)+0.22*g(r,0.7);
    var T=3.77;
    var A=0.42-0.0050*r;
    var ring=A*Math.pow(c2(PI*(r-5.9)/T),1.15)*(r>3.6?1:g(r-3.6,0.9));
    var inside=insideEll(rho/0.955);
    var glow = rho>1 ? 0.25*Math.exp(-Math.pow((r-37.5)/5.2,2)) : 0;
    return core + ring*inside + glow;
 }},
 {cx:162.7, cy:196.35, rx:33.4, ry:39.05, f:latticeModel({rx:33.4,ry:39.05,a:4.0,q:0.80,gam:0.6,sc:0.215,rot:true,core:1.0,clip:0.5,
    lx:0.52,lr:1.16,lwid:0.1,ln:14,ly:0.38,tr:1.085,twid:0.05,tn:8,lw:0.12,tb:8,crescent:1})},
 {cx:266.1, cy:196.3, rx:32.7, ry:39.6, f:latticeModel({rx:32.7,ry:39.6,a:6.0,q:0.78,gam:0.6,sc:0.155,rot:true,core:1.0,ex:1.15,clip:0.5,
    lx:0.50,lr:1.18,lwid:0.085,ln:16,ly:0.14,tr:1.04,twid:0.04,tn:6,lw:0.13,crescent:1,rim:0.30})},
 {cx:369.4, cy:196.95, rx:37.7, ry:38.85, f:latticeModel({rx:37.7,ry:38.85,a:3.0,q:0.70,gam:0.6,sc:0.33,rot:false,core:1.0,clip:0.5,
    lx:0.30,dx:3.0,sx:3.0,wy:6,ly:0.22,dy:2.5,sy:2.5,wx:6,lw:0.13,spots:0.6})},
 {cx:472.25, cy:196.55, rx:39.85, ry:32.55, f:function(x,y){
    var r=Math.sqrt(x*x+y*y);
    var rho=Math.sqrt((x/39.85)*(x/39.85)+(y/32.55)*(y/32.55));
    var ph=Math.atan2(y,x);
    var core=0.95*(g(Math.sqrt((x-2.3)*(x-2.3)+y*y),1.3)+g(Math.sqrt((x+2.3)*(x+2.3)+y*y),1.3));
    core += 0.35*g(Math.sqrt(x*x*0.5+y*y),3.2)*Math.min(1,Math.abs(x)/1.0);
    core += 0.30*g(r-5.2,1.6)*Math.pow(Math.abs(Math.cos(ph)),0.5);
    var T=5.0;
    var ringm=Math.pow(c2(PI*(r-7.4)/T),1.3);
    var ang=Math.pow(Math.abs(Math.cos(ph)),0.9);
    var A=0.46-0.0075*r;
    var inside=insideEll(rho);
    var v=core + A*ringm*ang*inside*(r>4.5?1:g(r-4.5,1.2));
    if(rho>1){ v += 0.15*Math.exp(-Math.pow((rho-1)/0.12,2))*(0.25+0.75*Math.abs(Math.cos(ph))); }
    return v;
 }}
];
var SQ_T=145.8, SQ_B=246.8, SQ_W=100.8;
var SS=3;
for(var k=0;k<5;k++){
  var L=9.6+103.2*k, Rr=L+SQ_W, p=P[k];
  var i0=Math.floor(L), i1=Math.ceil(Rr), j0=Math.floor(SQ_T), j1=Math.ceil(SQ_B);
  for(var j=j0;j<j1;j++){
    var covy=Math.min(j+1,SQ_B)-Math.max(j,SQ_T);
    for(var i=i0;i<i1;i++){
      var covx=Math.min(i+1,Rr)-Math.max(i,L);
      var cov=covx*covy; if(cov<=0) continue;
      var rr=0,gg=0,bb=0;
      for(var sy=0;sy<SS;sy++)for(var sx=0;sx<SS;sx++){
        var x=i+(sx+0.5)/SS-p.cx, y=j+(sy+0.5)/SS-p.cy;
        var c=hot(p.f(x,y));
        rr+=c[0];gg+=c[1];bb+=c[2];
      }
      var n=SS*SS;
      var idx=(j*W+i)*4;
      D[idx]=Math.round(255*((rr/n)*cov+(1-cov)));
      D[idx+1]=Math.round(255*((gg/n)*cov+(1-cov)));
      D[idx+2]=Math.round(255*((bb/n)*cov+(1-cov)));
    }
  }
}
// colorbar
var cbL=530.3, cbR=535.7, cbT=172.5, cbB=229.3;
for(var j=Math.floor(cbT);j<Math.ceil(cbB);j++){
  var covy=Math.min(j+1,cbB)-Math.max(j,cbT);
  var v=1-((j+0.5)-cbT)/(cbB-cbT);
  var c=hot(v*0.97+0.0);
  for(var i=Math.floor(cbL);i<Math.ceil(cbR);i++){
    var covx=Math.min(i+1,cbR)-Math.max(i,cbL);
    var cov=covx*covy;
    var idx=(j*W+i)*4;
    D[idx]=Math.round(255*(c[0]*cov+(1-cov)));
    D[idx+1]=Math.round(255*(c[1]*cov+(1-cov)));
    D[idx+2]=Math.round(255*(c[2]*cov+(1-cov)));
  }
}
ctx.putImageData(img,0,0);
ctx.strokeStyle='rgb(15,235,245)';
ctx.lineWidth=1.8;
for(var k=0;k<5;k++){
  var p=P[k];
  ctx.beginPath();
  ctx.ellipse(p.cx,p.cy,p.rx,p.ry,0,0,2*Math.PI);
  ctx.stroke();
}
ctx.strokeStyle='rgba(120,120,120,0.9)';
ctx.lineWidth=0.6;
ctx.strokeRect(cbL,cbT,cbR-cbL,cbB-cbT);
})();

</script>
</body></html>
